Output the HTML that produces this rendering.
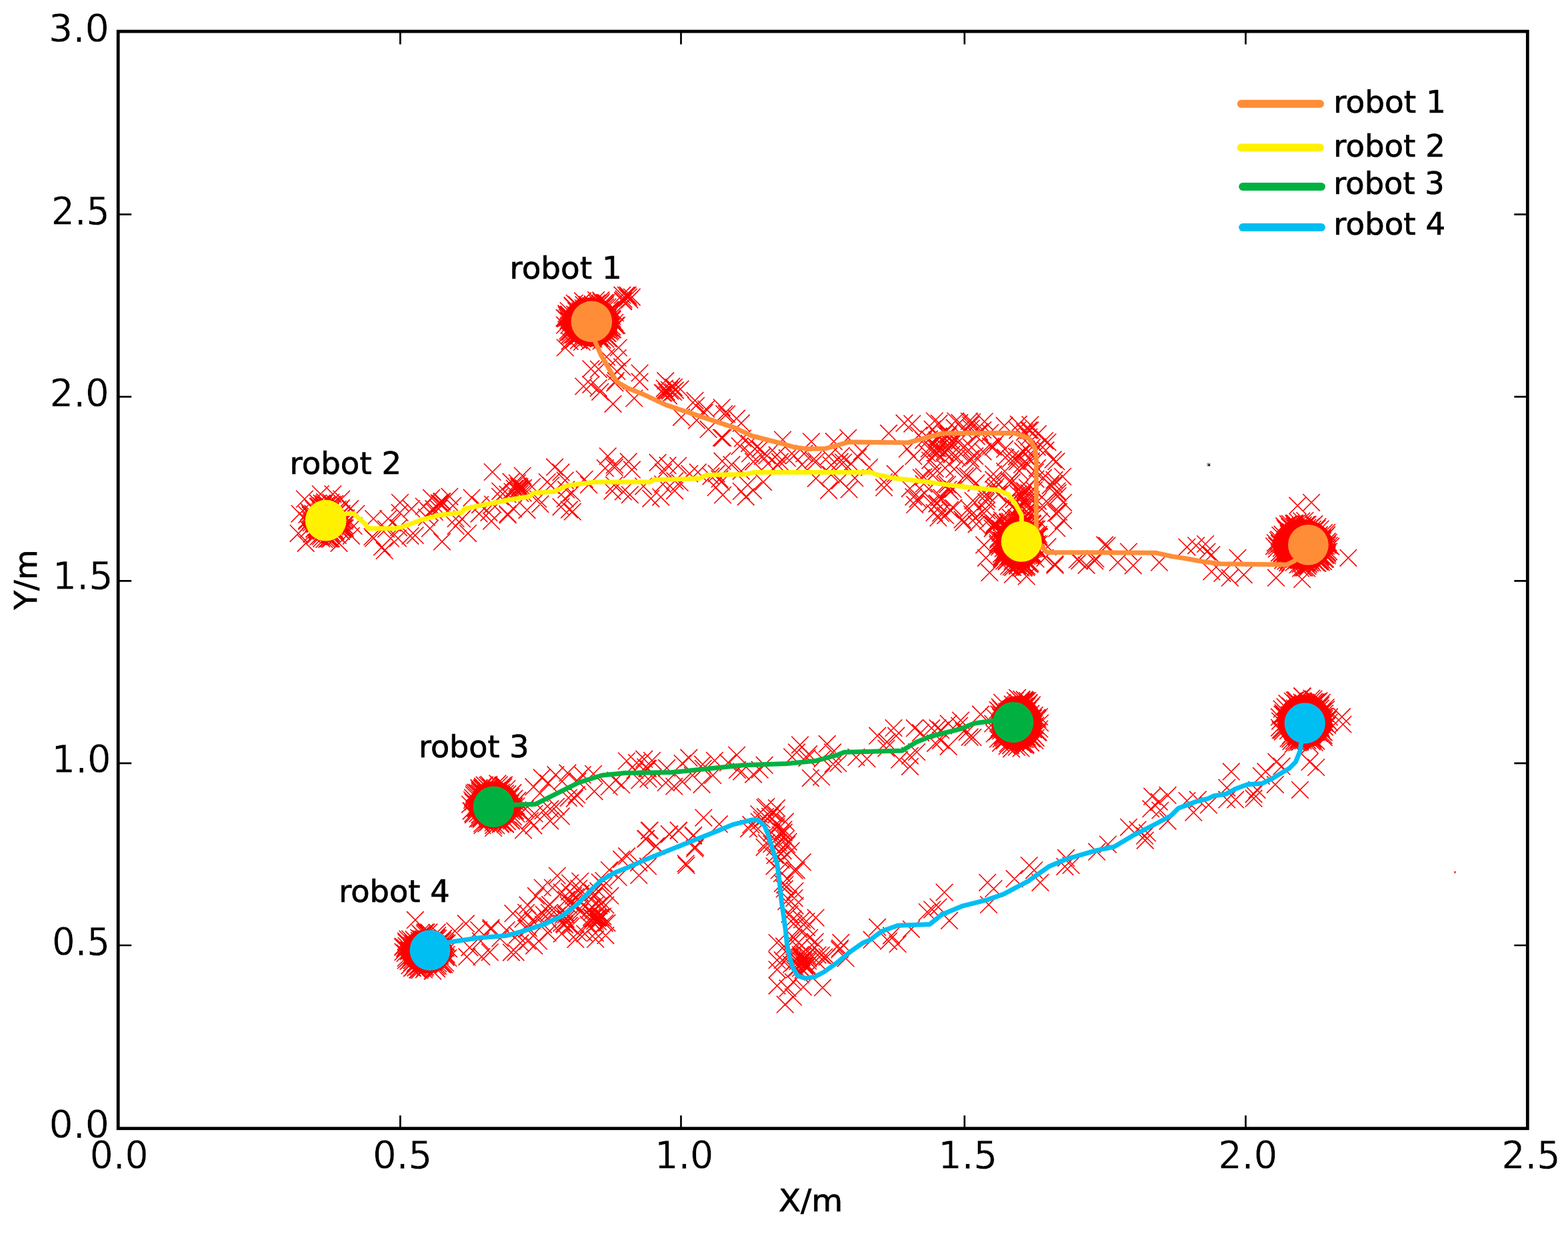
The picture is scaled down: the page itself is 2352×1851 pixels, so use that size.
<!DOCTYPE html>
<html><head><meta charset="utf-8"><title>Robot trajectories</title>
<style>html,body{margin:0;padding:0;background:#fff;width:2352px;height:1851px;overflow:hidden}svg{display:block}</style>
</head><body>
<svg xmlns="http://www.w3.org/2000/svg" width="2352" height="1851" viewBox="0 0 2352 1851"><defs><filter id="bl" x="-5%" y="-5%" width="110%" height="110%"><feGaussianBlur stdDeviation="0.6"/></filter></defs><rect width="2352" height="1851" fill="#fff"/><g filter="url(#bl)"><ellipse cx="886" cy="483" rx="42.0" ry="37.0" fill="#ff0000"/><ellipse cx="489" cy="781" rx="31.3" ry="28.5" fill="#ff0000"/><ellipse cx="1528" cy="815" rx="34.0" ry="40.0" fill="#ff0000"/><ellipse cx="1954" cy="817" rx="45.0" ry="38.0" fill="#ff0000"/><ellipse cx="741" cy="1208" rx="38.0" ry="36.0" fill="#ff0000"/><ellipse cx="1525" cy="1085" rx="38.0" ry="41.0" fill="#ff0000"/><ellipse cx="640" cy="1427" rx="38.0" ry="33.0" fill="#ff0000"/><ellipse cx="1957" cy="1082" rx="41.0" ry="40.0" fill="#ff0000"/><path d="M873.6 540.5l25.6 25.6m0-25.6l-25.6 25.6M946.8 546.7l25.6 25.6m0-25.6l-25.6 25.6M985.5 558.4l25.6 25.6m0-25.6l-25.6 25.6M862.5 566.7l25.6 25.6m0-25.6l-25.6 25.6M873.6 564.0l25.6 25.6m0-25.6l-25.6 25.6M887.4 575.0l25.6 25.6m0-25.6l-25.6 25.6M946.8 559.8l25.6 25.6m0-25.6l-25.6 25.6M992.5 573.6l25.6 25.6m0-25.6l-25.6 25.6M986.9 575.0l25.6 25.6m0-25.6l-25.6 25.6M998.0 568.1l25.6 25.6m0-25.6l-25.6 25.6M1007.7 570.9l25.6 25.6m0-25.6l-25.6 25.6M906.7 593.0l25.6 25.6m0-25.6l-25.6 25.6M938.5 584.7l25.6 25.6m0-25.6l-25.6 25.6M1031.2 595.8l25.6 25.6m0-25.6l-25.6 25.6M1069.9 598.5l25.6 25.6m0-25.6l-25.6 25.6M910.9 558.4l25.6 25.6m0-25.6l-25.6 25.6M897.1 522.5l25.6 25.6m0-25.6l-25.6 25.6M915.0 508.7l25.6 25.6m0-25.6l-25.6 25.6M834.9 508.7l25.6 25.6m0-25.6l-25.6 25.6M841.8 499.0l25.6 25.6m0-25.6l-25.6 25.6M928.9 434.0l25.6 25.6m0-25.6l-25.6 25.6M920.6 429.9l25.6 25.6m0-25.6l-25.6 25.6M931.6 436.8l25.6 25.6m0-25.6l-25.6 25.6M1073.4 608.0l25.6 25.6m0-25.6l-25.6 25.6M1092.1 614.9l25.6 25.6m0-25.6l-25.6 25.6M1099.0 621.9l25.6 25.6m0-25.6l-25.6 25.6M1071.3 644.0l25.6 25.6m0-25.6l-25.6 25.6M1096.9 656.4l25.6 25.6m0-25.6l-25.6 25.6M1122.5 657.8l25.6 25.6m0-25.6l-25.6 25.6M1161.2 646.7l25.6 25.6m0-25.6l-25.6 25.6M1204.1 649.5l25.6 25.6m0-25.6l-25.6 25.6M1259.4 644.0l25.6 25.6m0-25.6l-25.6 25.6M1320.2 637.1l25.6 25.6m0-25.6l-25.6 25.6M1343.7 621.9l25.6 25.6m0-25.6l-25.6 25.6M1347.9 660.6l25.6 25.6m0-25.6l-25.6 25.6M1357.5 671.6l25.6 25.6m0-25.6l-25.6 25.6M1130.8 671.6l25.6 25.6m0-25.6l-25.6 25.6M1139.1 682.7l25.6 25.6m0-25.6l-25.6 25.6M1157.1 679.9l25.6 25.6m0-25.6l-25.6 25.6M1168.1 674.4l25.6 25.6m0-25.6l-25.6 25.6M1190.2 684.1l25.6 25.6m0-25.6l-25.6 25.6M1206.8 677.2l25.6 25.6m0-25.6l-25.6 25.6M1230.3 671.6l25.6 25.6m0-25.6l-25.6 25.6M1246.9 679.9l25.6 25.6m0-25.6l-25.6 25.6M1263.5 682.7l25.6 25.6m0-25.6l-25.6 25.6M1280.1 664.7l25.6 25.6m0-25.6l-25.6 25.6M1291.2 688.2l25.6 25.6m0-25.6l-25.6 25.6M1099.0 693.8l25.6 25.6m0-25.6l-25.6 25.6M1132.2 710.3l25.6 25.6m0-25.6l-25.6 25.6M1211.0 704.8l25.6 25.6m0-25.6l-25.6 25.6M1230.3 722.8l25.6 25.6m0-25.6l-25.6 25.6M1260.8 721.4l25.6 25.6m0-25.6l-25.6 25.6M1313.3 710.3l25.6 25.6m0-25.6l-25.6 25.6M1329.9 697.9l25.6 25.6m0-25.6l-25.6 25.6M1352.0 720.0l25.6 25.6m0-25.6l-25.6 25.6M1357.5 732.5l25.6 25.6m0-25.6l-25.6 25.6M1108.7 714.5l25.6 25.6m0-25.6l-25.6 25.6M1099.0 724.2l25.6 25.6m0-25.6l-25.6 25.6M1105.9 732.5l25.6 25.6m0-25.6l-25.6 25.6M1117.0 722.8l25.6 25.6m0-25.6l-25.6 25.6M1071.3 729.7l25.6 25.6m0-25.6l-25.6 25.6M1313.3 718.6l25.6 25.6m0-25.6l-25.6 25.6M1043.7 606.1l25.6 25.6m0-25.6l-25.6 25.6M1032.2 617.6l25.6 25.6m0-25.6l-25.6 25.6M1009.2 613.0l25.6 25.6m0-25.6l-25.6 25.6M1355.5 622.8l25.6 25.6m0-25.6l-25.6 25.6M1385.9 631.1l25.6 25.6m0-25.6l-25.6 25.6M1420.5 618.7l25.6 25.6m0-25.6l-25.6 25.6M1444.0 629.7l25.6 25.6m0-25.6l-25.6 25.6M1493.8 625.6l25.6 25.6m0-25.6l-25.6 25.6M1532.5 624.2l25.6 25.6m0-25.6l-25.6 25.6M1558.7 650.5l25.6 25.6m0-25.6l-25.6 25.6M1524.2 635.3l25.6 25.6m0-25.6l-25.6 25.6M1562.9 715.5l25.6 25.6m0-25.6l-25.6 25.6M1573.9 726.5l25.6 25.6m0-25.6l-25.6 25.6M1571.2 756.9l25.6 25.6m0-25.6l-25.6 25.6M1582.2 768.0l25.6 25.6m0-25.6l-25.6 25.6M1363.8 735.5l25.6 25.6m0-25.6l-25.6 25.6M1388.7 756.2l25.6 25.6m0-25.6l-25.6 25.6M1417.7 749.3l25.6 25.6m0-25.6l-25.6 25.6M1405.3 760.4l25.6 25.6m0-25.6l-25.6 25.6M1460.6 754.9l25.6 25.6m0-25.6l-25.6 25.6M1467.5 735.5l25.6 25.6m0-25.6l-25.6 25.6M1446.7 738.3l25.6 25.6m0-25.6l-25.6 25.6M1463.3 804.6l25.6 25.6m0-25.6l-25.6 25.6M1466.1 824.0l25.6 25.6m0-25.6l-25.6 25.6M1471.6 846.1l25.6 25.6m0-25.6l-25.6 25.6M1506.2 848.9l25.6 25.6m0-25.6l-25.6 25.6M1526.9 851.6l25.6 25.6m0-25.6l-25.6 25.6M1569.8 835.0l25.6 25.6m0-25.6l-25.6 25.6M1554.6 824.0l25.6 25.6m0-25.6l-25.6 25.6M1603.0 826.7l25.6 25.6m0-25.6l-25.6 25.6M1616.8 835.0l25.6 25.6m0-25.6l-25.6 25.6M1630.6 825.4l25.6 25.6m0-25.6l-25.6 25.6M1644.4 804.6l25.6 25.6m0-25.6l-25.6 25.6M1558.7 807.4l25.6 25.6m0-25.6l-25.6 25.6M1572.6 779.7l25.6 25.6m0-25.6l-25.6 25.6M1575.3 754.9l25.6 25.6m0-25.6l-25.6 25.6M1582.2 741.0l25.6 25.6m0-25.6l-25.6 25.6M1573.9 731.3l25.6 25.6m0-25.6l-25.6 25.6M1569.5 833.2l25.6 25.6m0-25.6l-25.6 25.6M1606.3 828.6l25.6 25.6m0-25.6l-25.6 25.6M1647.8 805.5l25.6 25.6m0-25.6l-25.6 25.6M1629.4 828.6l25.6 25.6m0-25.6l-25.6 25.6M1663.9 830.9l25.6 25.6m0-25.6l-25.6 25.6M1680.1 814.8l25.6 25.6m0-25.6l-25.6 25.6M1687.0 835.5l25.6 25.6m0-25.6l-25.6 25.6M1726.1 830.9l25.6 25.6m0-25.6l-25.6 25.6M1767.6 807.8l25.6 25.6m0-25.6l-25.6 25.6M1781.4 805.5l25.6 25.6m0-25.6l-25.6 25.6M1795.3 803.2l25.6 25.6m0-25.6l-25.6 25.6M1797.6 814.8l25.6 25.6m0-25.6l-25.6 25.6M1804.5 819.4l25.6 25.6m0-25.6l-25.6 25.6M1804.5 844.7l25.6 25.6m0-25.6l-25.6 25.6M1820.6 847.0l25.6 25.6m0-25.6l-25.6 25.6M1843.7 824.0l25.6 25.6m0-25.6l-25.6 25.6M1852.9 849.3l25.6 25.6m0-25.6l-25.6 25.6M1832.1 853.9l25.6 25.6m0-25.6l-25.6 25.6M1901.3 853.9l25.6 25.6m0-25.6l-25.6 25.6M1940.4 856.2l25.6 25.6m0-25.6l-25.6 25.6M2009.6 824.0l25.6 25.6m0-25.6l-25.6 25.6M1933.5 745.6l25.6 25.6m0-25.6l-25.6 25.6M1954.3 741.0l25.6 25.6m0-25.6l-25.6 25.6M468.0 728.3l25.6 25.6m0-25.6l-25.6 25.6M486.5 728.3l25.6 25.6m0-25.6l-25.6 25.6M499.4 735.7l25.6 25.6m0-25.6l-25.6 25.6M512.3 750.4l25.6 25.6m0-25.6l-25.6 25.6M521.5 757.8l25.6 25.6m0-25.6l-25.6 25.6M517.8 776.2l25.6 25.6m0-25.6l-25.6 25.6M514.1 791.0l25.6 25.6m0-25.6l-25.6 25.6M495.7 802.0l25.6 25.6m0-25.6l-25.6 25.6M445.9 802.0l25.6 25.6m0-25.6l-25.6 25.6M434.8 787.3l25.6 25.6m0-25.6l-25.6 25.6M436.7 757.8l25.6 25.6m0-25.6l-25.6 25.6M444.1 735.7l25.6 25.6m0-25.6l-25.6 25.6M547.3 765.2l25.6 25.6m0-25.6l-25.6 25.6M569.4 765.2l25.6 25.6m0-25.6l-25.6 25.6M547.3 794.7l25.6 25.6m0-25.6l-25.6 25.6M560.2 807.6l25.6 25.6m0-25.6l-25.6 25.6M573.1 794.7l25.6 25.6m0-25.6l-25.6 25.6M563.9 813.1l25.6 25.6m0-25.6l-25.6 25.6M584.2 794.7l25.6 25.6m0-25.6l-25.6 25.6M602.6 791.0l25.6 25.6m0-25.6l-25.6 25.6M604.4 750.4l25.6 25.6m0-25.6l-25.6 25.6M622.9 746.7l25.6 25.6m0-25.6l-25.6 25.6M637.6 750.4l25.6 25.6m0-25.6l-25.6 25.6M632.1 779.9l25.6 25.6m0-25.6l-25.6 25.6M645.0 750.4l25.6 25.6m0-25.6l-25.6 25.6M661.6 732.0l25.6 25.6m0-25.6l-25.6 25.6M670.8 765.2l25.6 25.6m0-25.6l-25.6 25.6M689.2 787.3l25.6 25.6m0-25.6l-25.6 25.6M670.8 776.2l25.6 25.6m0-25.6l-25.6 25.6M694.8 733.8l25.6 25.6m0-25.6l-25.6 25.6M705.8 757.8l25.6 25.6m0-25.6l-25.6 25.6M720.6 756.0l25.6 25.6m0-25.6l-25.6 25.6M737.2 732.0l25.6 25.6m0-25.6l-25.6 25.6M724.3 768.9l25.6 25.6m0-25.6l-25.6 25.6M757.4 750.4l25.6 25.6m0-25.6l-25.6 25.6M768.5 720.9l25.6 25.6m0-25.6l-25.6 25.6M785.1 717.2l25.6 25.6m0-25.6l-25.6 25.6M794.3 735.7l25.6 25.6m0-25.6l-25.6 25.6M763.0 711.7l25.6 25.6m0-25.6l-25.6 25.6M777.7 752.3l25.6 25.6m0-25.6l-25.6 25.6M753.7 709.9l25.6 25.6m0-25.6l-25.6 25.6M646.8 743.1l25.6 25.6m0-25.6l-25.6 25.6M650.5 739.4l25.6 25.6m0-25.6l-25.6 25.6M766.6 717.2l25.6 25.6m0-25.6l-25.6 25.6M772.2 719.1l25.6 25.6m0-25.6l-25.6 25.6M895.0 689.4l25.6 25.6m0-25.6l-25.6 25.6M922.0 724.7l25.6 25.6m0-25.6l-25.6 25.6M963.5 735.0l25.6 25.6m0-25.6l-25.6 25.6M973.8 681.1l25.6 25.6m0-25.6l-25.6 25.6M982.1 695.6l25.6 25.6m0-25.6l-25.6 25.6M1021.5 697.7l25.6 25.6m0-25.6l-25.6 25.6M1034.0 695.6l25.6 25.6m0-25.6l-25.6 25.6M1060.9 718.4l25.6 25.6m0-25.6l-25.6 25.6M1069.2 643.8l25.6 25.6m0-25.6l-25.6 25.6M807.9 710.2l25.6 25.6m0-25.6l-25.6 25.6M828.7 695.6l25.6 25.6m0-25.6l-25.6 25.6M834.9 735.0l25.6 25.6m0-25.6l-25.6 25.6M828.7 747.5l25.6 25.6m0-25.6l-25.6 25.6M841.1 751.6l25.6 25.6m0-25.6l-25.6 25.6M863.9 706.0l25.6 25.6m0-25.6l-25.6 25.6M870.2 714.3l25.6 25.6m0-25.6l-25.6 25.6M797.6 743.3l25.6 25.6m0-25.6l-25.6 25.6M787.5 1167.4l25.6 25.6m0-25.6l-25.6 25.6M799.9 1153.6l25.6 25.6m0-25.6l-25.6 25.6M820.7 1149.4l25.6 25.6m0-25.6l-25.6 25.6M838.6 1146.6l25.6 25.6m0-25.6l-25.6 25.6M860.8 1149.4l25.6 25.6m0-25.6l-25.6 25.6M877.3 1148.0l25.6 25.6m0-25.6l-25.6 25.6M809.6 1161.9l25.6 25.6m0-25.6l-25.6 25.6M830.3 1159.1l25.6 25.6m0-25.6l-25.6 25.6M853.8 1159.1l25.6 25.6m0-25.6l-25.6 25.6M840.0 1184.0l25.6 25.6m0-25.6l-25.6 25.6M812.4 1200.6l25.6 25.6m0-25.6l-25.6 25.6M829.0 1211.6l25.6 25.6m0-25.6l-25.6 25.6M797.2 1177.1l25.6 25.6m0-25.6l-25.6 25.6M782.0 1218.5l25.6 25.6m0-25.6l-25.6 25.6M787.5 1225.5l25.6 25.6m0-25.6l-25.6 25.6M812.4 1218.5l25.6 25.6m0-25.6l-25.6 25.6M878.7 1174.3l25.6 25.6m0-25.6l-25.6 25.6M900.9 1167.4l25.6 25.6m0-25.6l-25.6 25.6M910.5 1157.7l25.6 25.6m0-25.6l-25.6 25.6M942.3 1131.4l25.6 25.6m0-25.6l-25.6 25.6M953.4 1125.9l25.6 25.6m0-25.6l-25.6 25.6M957.5 1139.7l25.6 25.6m0-25.6l-25.6 25.6M946.5 1157.7l25.6 25.6m0-25.6l-25.6 25.6M939.6 1142.5l25.6 25.6m0-25.6l-25.6 25.6M927.1 1128.7l25.6 25.6m0-25.6l-25.6 25.6M775.0 1200.6l25.6 25.6m0-25.6l-25.6 25.6M772.3 1232.4l25.6 25.6m0-25.6l-25.6 25.6M965.2 1128.0l25.6 25.6m0-25.6l-25.6 25.6M955.5 1137.7l25.6 25.6m0-25.6l-25.6 25.6M959.6 1155.7l25.6 25.6m0-25.6l-25.6 25.6M985.9 1161.2l25.6 25.6m0-25.6l-25.6 25.6M987.3 1139.1l25.6 25.6m0-25.6l-25.6 25.6M1010.8 1132.2l25.6 25.6m0-25.6l-25.6 25.6M1020.5 1123.9l25.6 25.6m0-25.6l-25.6 25.6M1010.8 1159.8l25.6 25.6m0-25.6l-25.6 25.6M998.4 1166.7l25.6 25.6m0-25.6l-25.6 25.6M1026.0 1150.2l25.6 25.6m0-25.6l-25.6 25.6M1041.2 1133.6l25.6 25.6m0-25.6l-25.6 25.6M1039.8 1164.0l25.6 25.6m0-25.6l-25.6 25.6M1056.4 1150.2l25.6 25.6m0-25.6l-25.6 25.6M1059.2 1128.0l25.6 25.6m0-25.6l-25.6 25.6M1092.4 1119.7l25.6 25.6m0-25.6l-25.6 25.6M1099.3 1144.6l25.6 25.6m0-25.6l-25.6 25.6M1117.3 1148.8l25.6 25.6m0-25.6l-25.6 25.6M1126.9 1141.9l25.6 25.6m0-25.6l-25.6 25.6M1133.8 1134.9l25.6 25.6m0-25.6l-25.6 25.6M1175.3 1122.5l25.6 25.6m0-25.6l-25.6 25.6M1203.0 1154.3l25.6 25.6m0-25.6l-25.6 25.6M1182.2 1115.6l25.6 25.6m0-25.6l-25.6 25.6M1200.2 1118.4l25.6 25.6m0-25.6l-25.6 25.6M1227.9 1103.1l25.6 25.6m0-25.6l-25.6 25.6M1236.2 1115.6l25.6 25.6m0-25.6l-25.6 25.6M1220.9 1125.3l25.6 25.6m0-25.6l-25.6 25.6M1244.4 1132.2l25.6 25.6m0-25.6l-25.6 25.6M961.0 1233.1l25.6 25.6m0-25.6l-25.6 25.6M955.5 1245.5l25.6 25.6m0-25.6l-25.6 25.6M970.7 1256.6l25.6 25.6m0-25.6l-25.6 25.6M991.4 1238.6l25.6 25.6m0-25.6l-25.6 25.6M1005.3 1233.1l25.6 25.6m0-25.6l-25.6 25.6M1027.4 1240.0l25.6 25.6m0-25.6l-25.6 25.6M1042.6 1213.8l25.6 25.6m0-25.6l-25.6 25.6M1066.1 1223.4l25.6 25.6m0-25.6l-25.6 25.6M1030.2 1258.0l25.6 25.6m0-25.6l-25.6 25.6M1110.3 1230.3l25.6 25.6m0-25.6l-25.6 25.6M1136.6 1197.2l25.6 25.6m0-25.6l-25.6 25.6M1146.3 1206.8l25.6 25.6m0-25.6l-25.6 25.6M1135.2 1212.4l25.6 25.6m0-25.6l-25.6 25.6M1125.5 1208.2l25.6 25.6m0-25.6l-25.6 25.6M1162.9 1235.9l25.6 25.6m0-25.6l-25.6 25.6M1154.6 1251.1l25.6 25.6m0-25.6l-25.6 25.6M1133.8 1258.0l25.6 25.6m0-25.6l-25.6 25.6M1173.9 1263.5l25.6 25.6m0-25.6l-25.6 25.6M1151.8 1223.4l25.6 25.6m0-25.6l-25.6 25.6M1271.5 1123.1l25.6 25.6m0-25.6l-25.6 25.6M1287.7 1125.4l25.6 25.6m0-25.6l-25.6 25.6M1317.6 1100.1l25.6 25.6m0-25.6l-25.6 25.6M1331.4 1090.9l25.6 25.6m0-25.6l-25.6 25.6M1352.2 1120.8l25.6 25.6m0-25.6l-25.6 25.6M1352.2 1137.0l25.6 25.6m0-25.6l-25.6 25.6M1359.1 1079.4l25.6 25.6m0-25.6l-25.6 25.6M1368.3 1086.3l25.6 25.6m0-25.6l-25.6 25.6M1393.7 1079.4l25.6 25.6m0-25.6l-25.6 25.6M1409.8 1072.5l25.6 25.6m0-25.6l-25.6 25.6M1428.2 1067.8l25.6 25.6m0-25.6l-25.6 25.6M1432.8 1084.0l25.6 25.6m0-25.6l-25.6 25.6M1446.6 1093.2l25.6 25.6m0-25.6l-25.6 25.6M1458.2 1058.6l25.6 25.6m0-25.6l-25.6 25.6M1409.8 1107.0l25.6 25.6m0-25.6l-25.6 25.6M1398.3 1097.8l25.6 25.6m0-25.6l-25.6 25.6M1384.4 1079.4l25.6 25.6m0-25.6l-25.6 25.6M610.1 1367.1l25.6 25.6m0-25.6l-25.6 25.6M686.1 1372.6l25.6 25.6m0-25.6l-25.6 25.6M669.5 1383.7l25.6 25.6m0-25.6l-25.6 25.6M705.5 1382.3l25.6 25.6m0-25.6l-25.6 25.6M723.4 1380.9l25.6 25.6m0-25.6l-25.6 25.6M691.6 1408.5l25.6 25.6m0-25.6l-25.6 25.6M708.2 1398.9l25.6 25.6m0-25.6l-25.6 25.6M687.5 1422.4l25.6 25.6m0-25.6l-25.6 25.6M709.6 1422.4l25.6 25.6m0-25.6l-25.6 25.6M722.0 1415.5l25.6 25.6m0-25.6l-25.6 25.6M737.3 1394.7l25.6 25.6m0-25.6l-25.6 25.6M746.9 1382.3l25.6 25.6m0-25.6l-25.6 25.6M756.6 1357.4l25.6 25.6m0-25.6l-25.6 25.6M771.8 1365.7l25.6 25.6m0-25.6l-25.6 25.6M760.8 1415.5l25.6 25.6m0-25.6l-25.6 25.6M778.7 1398.9l25.6 25.6m0-25.6l-25.6 25.6M788.4 1405.8l25.6 25.6m0-25.6l-25.6 25.6M778.7 1344.9l25.6 25.6m0-25.6l-25.6 25.6M791.2 1331.1l25.6 25.6m0-25.6l-25.6 25.6M800.9 1318.7l25.6 25.6m0-25.6l-25.6 25.6M823.0 1300.7l25.6 25.6m0-25.6l-25.6 25.6M842.3 1311.8l25.6 25.6m0-25.6l-25.6 25.6M857.5 1309.0l25.6 25.6m0-25.6l-25.6 25.6M809.1 1346.3l25.6 25.6m0-25.6l-25.6 25.6M823.0 1360.2l25.6 25.6m0-25.6l-25.6 25.6M809.1 1386.4l25.6 25.6m0-25.6l-25.6 25.6M829.9 1387.8l25.6 25.6m0-25.6l-25.6 25.6M843.7 1376.7l25.6 25.6m0-25.6l-25.6 25.6M857.5 1354.6l25.6 25.6m0-25.6l-25.6 25.6M864.4 1387.8l25.6 25.6m0-25.6l-25.6 25.6M795.3 1398.9l25.6 25.6m0-25.6l-25.6 25.6M767.7 1401.6l25.6 25.6m0-25.6l-25.6 25.6M850.6 1396.1l25.6 25.6m0-25.6l-25.6 25.6M795.3 1362.9l25.6 25.6m0-25.6l-25.6 25.6M836.8 1336.6l25.6 25.6m0-25.6l-25.6 25.6M816.1 1318.7l25.6 25.6m0-25.6l-25.6 25.6M829.9 1325.6l25.6 25.6m0-25.6l-25.6 25.6M850.6 1332.5l25.6 25.6m0-25.6l-25.6 25.6M802.2 1374.0l25.6 25.6m0-25.6l-25.6 25.6M901.1 1292.2l25.6 25.6m0-25.6l-25.6 25.6M927.4 1271.4l25.6 25.6m0-25.6l-25.6 25.6M959.2 1286.6l25.6 25.6m0-25.6l-25.6 25.6M962.0 1232.7l25.6 25.6m0-25.6l-25.6 25.6M956.4 1245.2l25.6 25.6m0-25.6l-25.6 25.6M991.0 1238.3l25.6 25.6m0-25.6l-25.6 25.6M971.6 1256.2l25.6 25.6m0-25.6l-25.6 25.6M1004.8 1232.7l25.6 25.6m0-25.6l-25.6 25.6M1026.9 1241.0l25.6 25.6m0-25.6l-25.6 25.6M1029.7 1257.6l25.6 25.6m0-25.6l-25.6 25.6M1015.9 1282.5l25.6 25.6m0-25.6l-25.6 25.6M914.9 1303.2l25.6 25.6m0-25.6l-25.6 25.6M892.8 1315.7l25.6 25.6m0-25.6l-25.6 25.6M855.5 1319.8l25.6 25.6m0-25.6l-25.6 25.6M902.5 1330.9l25.6 25.6m0-25.6l-25.6 25.6M895.6 1344.7l25.6 25.6m0-25.6l-25.6 25.6M874.9 1347.5l25.6 25.6m0-25.6l-25.6 25.6M880.4 1395.9l25.6 25.6m0-25.6l-25.6 25.6M895.6 1390.3l25.6 25.6m0-25.6l-25.6 25.6M854.1 1386.2l25.6 25.6m0-25.6l-25.6 25.6M1016.7 1285.2l25.6 25.6m0-25.6l-25.6 25.6M1029.2 1259.9l25.6 25.6m0-25.6l-25.6 25.6M1164.9 1493.9l25.6 25.6m0-25.6l-25.6 25.6M1177.1 1482.7l25.6 25.6m0-25.6l-25.6 25.6M1221.1 1468.6l25.6 25.6m0-25.6l-25.6 25.6M1152.8 1465.8l25.6 25.6m0-25.6l-25.6 25.6M1192.1 1467.7l25.6 25.6m0-25.6l-25.6 25.6M1168.7 1469.6l25.6 25.6m0-25.6l-25.6 25.6M1177.1 1460.2l25.6 25.6m0-25.6l-25.6 25.6M1152.8 1441.5l25.6 25.6m0-25.6l-25.6 25.6M1152.8 1427.4l25.6 25.6m0-25.6l-25.6 25.6M1152.8 1401.2l25.6 25.6m0-25.6l-25.6 25.6M1247.3 1409.6l25.6 25.6m0-25.6l-25.6 25.6M1255.8 1424.6l25.6 25.6m0-25.6l-25.6 25.6M1227.7 1422.8l25.6 25.6m0-25.6l-25.6 25.6M1208.9 1408.7l25.6 25.6m0-25.6l-25.6 25.6M1210.8 1363.8l25.6 25.6m0-25.6l-25.6 25.6M1190.2 1366.6l25.6 25.6m0-25.6l-25.6 25.6M1246.4 1411.6l25.6 25.6m0-25.6l-25.6 25.6M1248.5 1401.1l25.6 25.6m0-25.6l-25.6 25.6M1294.8 1396.9l25.6 25.6m0-25.6l-25.6 25.6M1320.1 1399.0l25.6 25.6m0-25.6l-25.6 25.6M1303.3 1377.9l25.6 25.6m0-25.6l-25.6 25.6M1324.3 1390.5l25.6 25.6m0-25.6l-25.6 25.6M1219.0 1420.0l25.6 25.6m0-25.6l-25.6 25.6M1134.7 1198.8l25.6 25.6m0-25.6l-25.6 25.6M1151.5 1209.3l25.6 25.6m0-25.6l-25.6 25.6M1113.6 1224.1l25.6 25.6m0-25.6l-25.6 25.6M1124.2 1230.4l25.6 25.6m0-25.6l-25.6 25.6M1160.0 1234.6l25.6 25.6m0-25.6l-25.6 25.6M1166.3 1245.2l25.6 25.6m0-25.6l-25.6 25.6M1403.8 1325.7l25.6 25.6m0-25.6l-25.6 25.6M1385.4 1351.5l25.6 25.6m0-25.6l-25.6 25.6M1411.2 1368.1l25.6 25.6m0-25.6l-25.6 25.6M1354.1 1381.0l25.6 25.6m0-25.6l-25.6 25.6M1333.8 1403.1l25.6 25.6m0-25.6l-25.6 25.6M1468.4 1311.0l25.6 25.6m0-25.6l-25.6 25.6M1477.6 1320.2l25.6 25.6m0-25.6l-25.6 25.6M1508.9 1305.4l25.6 25.6m0-25.6l-25.6 25.6M1538.4 1292.5l25.6 25.6m0-25.6l-25.6 25.6M1547.6 1311.0l25.6 25.6m0-25.6l-25.6 25.6M1586.3 1274.1l25.6 25.6m0-25.6l-25.6 25.6M1584.5 1287.0l25.6 25.6m0-25.6l-25.6 25.6M1632.4 1264.9l25.6 25.6m0-25.6l-25.6 25.6M1649.0 1253.8l25.6 25.6m0-25.6l-25.6 25.6M1680.3 1228.0l25.6 25.6m0-25.6l-25.6 25.6M1704.3 1240.9l25.6 25.6m0-25.6l-25.6 25.6M1715.4 1181.9l25.6 25.6m0-25.6l-25.6 25.6M1470.2 1344.2l25.6 25.6m0-25.6l-25.6 25.6M1531.0 1285.2l25.6 25.6m0-25.6l-25.6 25.6M1593.7 1285.2l25.6 25.6m0-25.6l-25.6 25.6M1713.5 1200.4l25.6 25.6m0-25.6l-25.6 25.6M1378.0 1355.2l25.6 25.6m0-25.6l-25.6 25.6M1394.6 1347.8l25.6 25.6m0-25.6l-25.6 25.6M1834.0 1144.6l25.6 25.6m0-25.6l-25.6 25.6M1879.1 1151.1l25.6 25.6m0-25.6l-25.6 25.6M1885.6 1144.6l25.6 25.6m0-25.6l-25.6 25.6M1909.8 1136.6l25.6 25.6m0-25.6l-25.6 25.6M1901.7 1130.1l25.6 25.6m0-25.6l-25.6 25.6M1961.4 1138.2l25.6 25.6m0-25.6l-25.6 25.6M1951.7 1130.1l25.6 25.6m0-25.6l-25.6 25.6M1937.2 1172.0l25.6 25.6m0-25.6l-25.6 25.6M1900.1 1164.0l25.6 25.6m0-25.6l-25.6 25.6M1872.7 1172.0l25.6 25.6m0-25.6l-25.6 25.6M1867.8 1184.9l25.6 25.6m0-25.6l-25.6 25.6M1867.8 1178.5l25.6 25.6m0-25.6l-25.6 25.6M1827.5 1186.6l25.6 25.6m0-25.6l-25.6 25.6M1840.4 1186.6l25.6 25.6m0-25.6l-25.6 25.6M1827.5 1168.8l25.6 25.6m0-25.6l-25.6 25.6M1800.1 1194.6l25.6 25.6m0-25.6l-25.6 25.6M1777.5 1205.9l25.6 25.6m0-25.6l-25.6 25.6M1784.0 1186.6l25.6 25.6m0-25.6l-25.6 25.6M1767.8 1188.2l25.6 25.6m0-25.6l-25.6 25.6M1738.8 1180.1l25.6 25.6m0-25.6l-25.6 25.6M1725.9 1189.8l25.6 25.6m0-25.6l-25.6 25.6M1727.5 1202.7l25.6 25.6m0-25.6l-25.6 25.6M1738.8 1218.8l25.6 25.6m0-25.6l-25.6 25.6M1708.2 1236.6l25.6 25.6m0-25.6l-25.6 25.6M1704.9 1247.8l25.6 25.6m0-25.6l-25.6 25.6M1693.7 1231.7l25.6 25.6m0-25.6l-25.6 25.6M2001.7 1073.7l25.6 25.6m0-25.6l-25.6 25.6M2000.1 1062.4l25.6 25.6m0-25.6l-25.6 25.6M1127.5 660.5l25.6 25.6m0-25.6l-25.6 25.6M1152.8 669.6l25.6 25.6m0-25.6l-25.6 25.6M1153.8 684.8l25.6 25.6m0-25.6l-25.6 25.6M1178.2 670.7l25.6 25.6m0-25.6l-25.6 25.6M1193.4 667.6l25.6 25.6m0-25.6l-25.6 25.6M1211.6 678.8l25.6 25.6m0-25.6l-25.6 25.6M1233.9 684.8l25.6 25.6m0-25.6l-25.6 25.6M1249.1 670.7l25.6 25.6m0-25.6l-25.6 25.6M1252.2 680.8l25.6 25.6m0-25.6l-25.6 25.6M1274.5 672.7l25.6 25.6m0-25.6l-25.6 25.6M1117.3 679.8l25.6 25.6m0-25.6l-25.6 25.6M1112.3 667.6l25.6 25.6m0-25.6l-25.6 25.6M1137.6 670.7l25.6 25.6m0-25.6l-25.6 25.6M1247.1 708.2l25.6 25.6m0-25.6l-25.6 25.6M1269.4 704.1l25.6 25.6m0-25.6l-25.6 25.6M1233.9 699.2l25.6 25.6m0-25.6l-25.6 25.6M1238.0 649.4l25.6 25.6m0-25.6l-25.6 25.6M866.2 482.5l25.6 25.6m0-25.6l-25.6 25.6M866.8 462.4l25.6 25.6m0-25.6l-25.6 25.6M849.3 465.4l25.6 25.6m0-25.6l-25.6 25.6M900.2 479.2l25.6 25.6m0-25.6l-25.6 25.6M899.1 475.7l25.6 25.6m0-25.6l-25.6 25.6M884.2 474.7l25.6 25.6m0-25.6l-25.6 25.6M840.4 484.9l25.6 25.6m0-25.6l-25.6 25.6M886.8 482.0l25.6 25.6m0-25.6l-25.6 25.6M845.8 445.4l25.6 25.6m0-25.6l-25.6 25.6M850.6 459.8l25.6 25.6m0-25.6l-25.6 25.6M881.8 469.1l25.6 25.6m0-25.6l-25.6 25.6M886.9 455.4l25.6 25.6m0-25.6l-25.6 25.6M881.8 479.8l25.6 25.6m0-25.6l-25.6 25.6M860.1 500.1l25.6 25.6m0-25.6l-25.6 25.6M886.2 494.7l25.6 25.6m0-25.6l-25.6 25.6M857.3 453.6l25.6 25.6m0-25.6l-25.6 25.6M863.5 467.6l25.6 25.6m0-25.6l-25.6 25.6M890.3 476.1l25.6 25.6m0-25.6l-25.6 25.6M862.0 449.2l25.6 25.6m0-25.6l-25.6 25.6M861.0 495.2l25.6 25.6m0-25.6l-25.6 25.6M852.0 475.8l25.6 25.6m0-25.6l-25.6 25.6M882.5 441.7l25.6 25.6m0-25.6l-25.6 25.6M874.3 497.1l25.6 25.6m0-25.6l-25.6 25.6M835.8 465.0l25.6 25.6m0-25.6l-25.6 25.6M870.4 451.3l25.6 25.6m0-25.6l-25.6 25.6M887.0 468.7l25.6 25.6m0-25.6l-25.6 25.6M842.5 485.4l25.6 25.6m0-25.6l-25.6 25.6M889.6 490.5l25.6 25.6m0-25.6l-25.6 25.6M905.3 477.3l25.6 25.6m0-25.6l-25.6 25.6M876.0 443.4l25.6 25.6m0-25.6l-25.6 25.6M889.3 456.2l25.6 25.6m0-25.6l-25.6 25.6M862.7 444.4l25.6 25.6m0-25.6l-25.6 25.6M849.2 458.7l25.6 25.6m0-25.6l-25.6 25.6M894.3 441.1l25.6 25.6m0-25.6l-25.6 25.6M840.6 474.9l25.6 25.6m0-25.6l-25.6 25.6M904.7 481.3l25.6 25.6m0-25.6l-25.6 25.6M848.9 442.0l25.6 25.6m0-25.6l-25.6 25.6M882.6 453.2l25.6 25.6m0-25.6l-25.6 25.6M848.2 489.3l25.6 25.6m0-25.6l-25.6 25.6M900.4 473.6l25.6 25.6m0-25.6l-25.6 25.6M880.0 480.8l25.6 25.6m0-25.6l-25.6 25.6M906.3 481.5l25.6 25.6m0-25.6l-25.6 25.6M887.1 483.0l25.6 25.6m0-25.6l-25.6 25.6M843.9 491.2l25.6 25.6m0-25.6l-25.6 25.6M896.9 481.7l25.6 25.6m0-25.6l-25.6 25.6M837.0 460.0l25.6 25.6m0-25.6l-25.6 25.6M889.1 440.3l25.6 25.6m0-25.6l-25.6 25.6M868.6 492.7l25.6 25.6m0-25.6l-25.6 25.6M849.2 496.1l25.6 25.6m0-25.6l-25.6 25.6M888.4 466.6l25.6 25.6m0-25.6l-25.6 25.6M881.9 485.5l25.6 25.6m0-25.6l-25.6 25.6M876.1 494.8l25.6 25.6m0-25.6l-25.6 25.6M855.6 460.5l25.6 25.6m0-25.6l-25.6 25.6M899.4 470.8l25.6 25.6m0-25.6l-25.6 25.6M852.4 489.8l25.6 25.6m0-25.6l-25.6 25.6M905.4 461.6l25.6 25.6m0-25.6l-25.6 25.6M841.5 467.5l25.6 25.6m0-25.6l-25.6 25.6M869.0 462.8l25.6 25.6m0-25.6l-25.6 25.6M902.1 451.7l25.6 25.6m0-25.6l-25.6 25.6M898.7 447.7l25.6 25.6m0-25.6l-25.6 25.6M853.2 484.2l25.6 25.6m0-25.6l-25.6 25.6M898.9 487.3l25.6 25.6m0-25.6l-25.6 25.6M882.9 473.7l25.6 25.6m0-25.6l-25.6 25.6M877.4 484.0l25.6 25.6m0-25.6l-25.6 25.6M868.2 477.1l25.6 25.6m0-25.6l-25.6 25.6M889.0 470.2l25.6 25.6m0-25.6l-25.6 25.6M892.8 482.9l25.6 25.6m0-25.6l-25.6 25.6M910.6 475.5l25.6 25.6m0-25.6l-25.6 25.6M861.4 461.2l25.6 25.6m0-25.6l-25.6 25.6M872.9 491.1l25.6 25.6m0-25.6l-25.6 25.6M863.9 479.6l25.6 25.6m0-25.6l-25.6 25.6M896.7 441.4l25.6 25.6m0-25.6l-25.6 25.6M845.7 475.4l25.6 25.6m0-25.6l-25.6 25.6M884.3 476.0l25.6 25.6m0-25.6l-25.6 25.6M861.7 485.5l25.6 25.6m0-25.6l-25.6 25.6M880.9 457.7l25.6 25.6m0-25.6l-25.6 25.6M912.3 475.2l25.6 25.6m0-25.6l-25.6 25.6M857.9 467.8l25.6 25.6m0-25.6l-25.6 25.6M866.8 468.6l25.6 25.6m0-25.6l-25.6 25.6M833.8 464.0l25.6 25.6m0-25.6l-25.6 25.6M895.3 447.8l25.6 25.6m0-25.6l-25.6 25.6M871.5 491.6l25.6 25.6m0-25.6l-25.6 25.6M890.9 497.2l25.6 25.6m0-25.6l-25.6 25.6M838.2 463.8l25.6 25.6m0-25.6l-25.6 25.6M864.0 484.9l25.6 25.6m0-25.6l-25.6 25.6M888.4 437.6l25.6 25.6m0-25.6l-25.6 25.6M895.1 444.7l25.6 25.6m0-25.6l-25.6 25.6M887.7 442.4l25.6 25.6m0-25.6l-25.6 25.6M877.4 495.5l25.6 25.6m0-25.6l-25.6 25.6M869.0 475.0l25.6 25.6m0-25.6l-25.6 25.6M894.3 473.5l25.6 25.6m0-25.6l-25.6 25.6M871.3 499.7l25.6 25.6m0-25.6l-25.6 25.6M899.3 463.8l25.6 25.6m0-25.6l-25.6 25.6M910.3 456.6l25.6 25.6m0-25.6l-25.6 25.6M896.7 464.2l25.6 25.6m0-25.6l-25.6 25.6M876.8 486.8l25.6 25.6m0-25.6l-25.6 25.6M879.2 485.4l25.6 25.6m0-25.6l-25.6 25.6M845.9 446.5l25.6 25.6m0-25.6l-25.6 25.6M888.3 449.5l25.6 25.6m0-25.6l-25.6 25.6M852.5 444.2l25.6 25.6m0-25.6l-25.6 25.6M901.6 484.9l25.6 25.6m0-25.6l-25.6 25.6M903.4 453.3l25.6 25.6m0-25.6l-25.6 25.6M873.2 445.7l25.6 25.6m0-25.6l-25.6 25.6M888.8 498.6l25.6 25.6m0-25.6l-25.6 25.6M855.2 497.8l25.6 25.6m0-25.6l-25.6 25.6M898.3 466.2l25.6 25.6m0-25.6l-25.6 25.6M841.1 490.3l25.6 25.6m0-25.6l-25.6 25.6M870.6 455.7l25.6 25.6m0-25.6l-25.6 25.6M884.2 480.1l25.6 25.6m0-25.6l-25.6 25.6M903.3 452.3l25.6 25.6m0-25.6l-25.6 25.6M895.6 495.8l25.6 25.6m0-25.6l-25.6 25.6M905.8 466.6l25.6 25.6m0-25.6l-25.6 25.6M855.5 491.4l25.6 25.6m0-25.6l-25.6 25.6M876.5 473.3l25.6 25.6m0-25.6l-25.6 25.6M905.3 465.0l25.6 25.6m0-25.6l-25.6 25.6M834.6 464.5l25.6 25.6m0-25.6l-25.6 25.6M838.6 483.6l25.6 25.6m0-25.6l-25.6 25.6M881.8 455.7l25.6 25.6m0-25.6l-25.6 25.6M872.9 489.4l25.6 25.6m0-25.6l-25.6 25.6M875.0 497.3l25.6 25.6m0-25.6l-25.6 25.6M871.7 493.1l25.6 25.6m0-25.6l-25.6 25.6M899.5 495.0l25.6 25.6m0-25.6l-25.6 25.6M856.6 489.3l25.6 25.6m0-25.6l-25.6 25.6M839.8 453.3l25.6 25.6m0-25.6l-25.6 25.6M839.1 486.5l25.6 25.6m0-25.6l-25.6 25.6M843.7 469.9l25.6 25.6m0-25.6l-25.6 25.6M867.7 469.5l25.6 25.6m0-25.6l-25.6 25.6M857.1 475.8l25.6 25.6m0-25.6l-25.6 25.6M909.4 471.0l25.6 25.6m0-25.6l-25.6 25.6M886.3 491.8l25.6 25.6m0-25.6l-25.6 25.6M868.5 444.0l25.6 25.6m0-25.6l-25.6 25.6M859.8 492.9l25.6 25.6m0-25.6l-25.6 25.6M839.5 459.5l25.6 25.6m0-25.6l-25.6 25.6M897.0 486.6l25.6 25.6m0-25.6l-25.6 25.6M873.4 488.9l25.6 25.6m0-25.6l-25.6 25.6M877.2 445.2l25.6 25.6m0-25.6l-25.6 25.6M840.5 458.5l25.6 25.6m0-25.6l-25.6 25.6M896.2 457.8l25.6 25.6m0-25.6l-25.6 25.6M851.3 453.8l25.6 25.6m0-25.6l-25.6 25.6M839.6 467.9l25.6 25.6m0-25.6l-25.6 25.6M844.9 477.8l25.6 25.6m0-25.6l-25.6 25.6M834.3 474.9l25.6 25.6m0-25.6l-25.6 25.6M861.3 438.6l25.6 25.6m0-25.6l-25.6 25.6M892.5 463.8l25.6 25.6m0-25.6l-25.6 25.6M836.6 457.6l25.6 25.6m0-25.6l-25.6 25.6M881.2 459.1l25.6 25.6m0-25.6l-25.6 25.6M892.6 486.5l25.6 25.6m0-25.6l-25.6 25.6M891.0 477.9l25.6 25.6m0-25.6l-25.6 25.6M902.9 483.1l25.6 25.6m0-25.6l-25.6 25.6M881.3 437.3l25.6 25.6m0-25.6l-25.6 25.6M491.3 788.1l25.6 25.6m0-25.6l-25.6 25.6M469.8 759.1l25.6 25.6m0-25.6l-25.6 25.6M499.2 749.4l25.6 25.6m0-25.6l-25.6 25.6M482.0 795.5l25.6 25.6m0-25.6l-25.6 25.6M458.6 780.1l25.6 25.6m0-25.6l-25.6 25.6M504.9 766.5l25.6 25.6m0-25.6l-25.6 25.6M487.1 784.1l25.6 25.6m0-25.6l-25.6 25.6M457.9 766.6l25.6 25.6m0-25.6l-25.6 25.6M482.1 783.4l25.6 25.6m0-25.6l-25.6 25.6M475.4 764.3l25.6 25.6m0-25.6l-25.6 25.6M456.5 761.9l25.6 25.6m0-25.6l-25.6 25.6M494.2 770.1l25.6 25.6m0-25.6l-25.6 25.6M460.2 753.9l25.6 25.6m0-25.6l-25.6 25.6M504.9 779.3l25.6 25.6m0-25.6l-25.6 25.6M483.6 740.9l25.6 25.6m0-25.6l-25.6 25.6M489.0 777.2l25.6 25.6m0-25.6l-25.6 25.6M503.1 774.4l25.6 25.6m0-25.6l-25.6 25.6M474.7 778.4l25.6 25.6m0-25.6l-25.6 25.6M449.6 781.0l25.6 25.6m0-25.6l-25.6 25.6M482.9 755.0l25.6 25.6m0-25.6l-25.6 25.6M494.0 790.2l25.6 25.6m0-25.6l-25.6 25.6M452.4 758.0l25.6 25.6m0-25.6l-25.6 25.6M482.6 771.8l25.6 25.6m0-25.6l-25.6 25.6M468.4 751.0l25.6 25.6m0-25.6l-25.6 25.6M503.6 780.3l25.6 25.6m0-25.6l-25.6 25.6M457.5 749.1l25.6 25.6m0-25.6l-25.6 25.6M501.4 781.4l25.6 25.6m0-25.6l-25.6 25.6M502.9 779.0l25.6 25.6m0-25.6l-25.6 25.6M458.6 773.0l25.6 25.6m0-25.6l-25.6 25.6M447.5 759.2l25.6 25.6m0-25.6l-25.6 25.6M474.9 778.4l25.6 25.6m0-25.6l-25.6 25.6M461.0 765.9l25.6 25.6m0-25.6l-25.6 25.6M486.0 775.5l25.6 25.6m0-25.6l-25.6 25.6M489.6 772.2l25.6 25.6m0-25.6l-25.6 25.6M469.6 782.8l25.6 25.6m0-25.6l-25.6 25.6M477.2 752.9l25.6 25.6m0-25.6l-25.6 25.6M462.9 768.2l25.6 25.6m0-25.6l-25.6 25.6M473.8 771.3l25.6 25.6m0-25.6l-25.6 25.6M476.2 771.7l25.6 25.6m0-25.6l-25.6 25.6M473.7 747.2l25.6 25.6m0-25.6l-25.6 25.6M484.3 786.4l25.6 25.6m0-25.6l-25.6 25.6M485.6 764.5l25.6 25.6m0-25.6l-25.6 25.6M484.9 751.2l25.6 25.6m0-25.6l-25.6 25.6M447.4 769.0l25.6 25.6m0-25.6l-25.6 25.6M458.6 780.8l25.6 25.6m0-25.6l-25.6 25.6M464.3 742.1l25.6 25.6m0-25.6l-25.6 25.6M460.4 789.9l25.6 25.6m0-25.6l-25.6 25.6M469.5 746.3l25.6 25.6m0-25.6l-25.6 25.6M460.9 777.7l25.6 25.6m0-25.6l-25.6 25.6M486.9 771.6l25.6 25.6m0-25.6l-25.6 25.6M500.7 778.7l25.6 25.6m0-25.6l-25.6 25.6M475.8 779.7l25.6 25.6m0-25.6l-25.6 25.6M501.1 781.4l25.6 25.6m0-25.6l-25.6 25.6M493.9 751.2l25.6 25.6m0-25.6l-25.6 25.6M473.1 781.9l25.6 25.6m0-25.6l-25.6 25.6M470.5 786.8l25.6 25.6m0-25.6l-25.6 25.6M487.7 784.1l25.6 25.6m0-25.6l-25.6 25.6M473.6 796.1l25.6 25.6m0-25.6l-25.6 25.6M499.2 764.6l25.6 25.6m0-25.6l-25.6 25.6M477.3 796.2l25.6 25.6m0-25.6l-25.6 25.6M469.3 784.0l25.6 25.6m0-25.6l-25.6 25.6M495.7 768.3l25.6 25.6m0-25.6l-25.6 25.6M454.1 771.4l25.6 25.6m0-25.6l-25.6 25.6M483.0 787.5l25.6 25.6m0-25.6l-25.6 25.6M492.4 768.7l25.6 25.6m0-25.6l-25.6 25.6M493.0 777.8l25.6 25.6m0-25.6l-25.6 25.6M480.8 769.3l25.6 25.6m0-25.6l-25.6 25.6M471.1 781.2l25.6 25.6m0-25.6l-25.6 25.6M456.5 757.6l25.6 25.6m0-25.6l-25.6 25.6M476.3 745.1l25.6 25.6m0-25.6l-25.6 25.6M469.9 742.1l25.6 25.6m0-25.6l-25.6 25.6M462.4 778.6l25.6 25.6m0-25.6l-25.6 25.6M488.3 767.1l25.6 25.6m0-25.6l-25.6 25.6M472.1 745.6l25.6 25.6m0-25.6l-25.6 25.6M503.9 775.3l25.6 25.6m0-25.6l-25.6 25.6M495.6 754.0l25.6 25.6m0-25.6l-25.6 25.6M473.3 742.6l25.6 25.6m0-25.6l-25.6 25.6M490.8 784.0l25.6 25.6m0-25.6l-25.6 25.6M447.4 767.5l25.6 25.6m0-25.6l-25.6 25.6M485.8 743.8l25.6 25.6m0-25.6l-25.6 25.6M450.5 754.6l25.6 25.6m0-25.6l-25.6 25.6M465.5 746.5l25.6 25.6m0-25.6l-25.6 25.6M476.9 773.2l25.6 25.6m0-25.6l-25.6 25.6M488.9 780.9l25.6 25.6m0-25.6l-25.6 25.6M499.0 784.2l25.6 25.6m0-25.6l-25.6 25.6M452.9 760.1l25.6 25.6m0-25.6l-25.6 25.6M458.0 751.4l25.6 25.6m0-25.6l-25.6 25.6M474.4 768.3l25.6 25.6m0-25.6l-25.6 25.6M484.2 744.6l25.6 25.6m0-25.6l-25.6 25.6M453.2 767.8l25.6 25.6m0-25.6l-25.6 25.6M471.8 762.0l25.6 25.6m0-25.6l-25.6 25.6M474.9 753.9l25.6 25.6m0-25.6l-25.6 25.6M490.7 774.8l25.6 25.6m0-25.6l-25.6 25.6M474.4 755.4l25.6 25.6m0-25.6l-25.6 25.6M474.2 740.1l25.6 25.6m0-25.6l-25.6 25.6M456.7 768.9l25.6 25.6m0-25.6l-25.6 25.6M450.4 771.3l25.6 25.6m0-25.6l-25.6 25.6M478.8 745.9l25.6 25.6m0-25.6l-25.6 25.6M470.7 762.0l25.6 25.6m0-25.6l-25.6 25.6M485.7 779.7l25.6 25.6m0-25.6l-25.6 25.6M475.5 752.5l25.6 25.6m0-25.6l-25.6 25.6M473.0 766.9l25.6 25.6m0-25.6l-25.6 25.6M491.4 773.7l25.6 25.6m0-25.6l-25.6 25.6M463.9 747.3l25.6 25.6m0-25.6l-25.6 25.6M468.6 754.5l25.6 25.6m0-25.6l-25.6 25.6M454.8 766.2l25.6 25.6m0-25.6l-25.6 25.6M465.6 770.3l25.6 25.6m0-25.6l-25.6 25.6M487.2 760.3l25.6 25.6m0-25.6l-25.6 25.6M506.4 764.4l25.6 25.6m0-25.6l-25.6 25.6M497.4 770.3l25.6 25.6m0-25.6l-25.6 25.6M489.4 742.8l25.6 25.6m0-25.6l-25.6 25.6M460.7 772.8l25.6 25.6m0-25.6l-25.6 25.6M483.8 795.0l25.6 25.6m0-25.6l-25.6 25.6M482.1 789.3l25.6 25.6m0-25.6l-25.6 25.6M490.5 784.2l25.6 25.6m0-25.6l-25.6 25.6M487.2 765.2l25.6 25.6m0-25.6l-25.6 25.6M485.8 749.8l25.6 25.6m0-25.6l-25.6 25.6M496.2 752.6l25.6 25.6m0-25.6l-25.6 25.6M479.7 795.0l25.6 25.6m0-25.6l-25.6 25.6M471.3 768.6l25.6 25.6m0-25.6l-25.6 25.6M498.3 768.7l25.6 25.6m0-25.6l-25.6 25.6M459.7 773.0l25.6 25.6m0-25.6l-25.6 25.6M487.9 781.1l25.6 25.6m0-25.6l-25.6 25.6M464.6 792.1l25.6 25.6m0-25.6l-25.6 25.6M503.5 768.5l25.6 25.6m0-25.6l-25.6 25.6M482.0 759.8l25.6 25.6m0-25.6l-25.6 25.6M500.0 757.5l25.6 25.6m0-25.6l-25.6 25.6M490.0 759.3l25.6 25.6m0-25.6l-25.6 25.6M462.5 781.1l25.6 25.6m0-25.6l-25.6 25.6M500.4 768.0l25.6 25.6m0-25.6l-25.6 25.6M463.0 782.5l25.6 25.6m0-25.6l-25.6 25.6M475.1 774.4l25.6 25.6m0-25.6l-25.6 25.6M499.3 783.7l25.6 25.6m0-25.6l-25.6 25.6M469.4 795.1l25.6 25.6m0-25.6l-25.6 25.6M476.3 782.9l25.6 25.6m0-25.6l-25.6 25.6M462.5 767.3l25.6 25.6m0-25.6l-25.6 25.6M454.6 788.1l25.6 25.6m0-25.6l-25.6 25.6M497.4 751.1l25.6 25.6m0-25.6l-25.6 25.6M455.7 748.2l25.6 25.6m0-25.6l-25.6 25.6M497.9 760.5l25.6 25.6m0-25.6l-25.6 25.6M474.9 762.0l25.6 25.6m0-25.6l-25.6 25.6M473.9 749.2l25.6 25.6m0-25.6l-25.6 25.6M476.6 745.3l25.6 25.6m0-25.6l-25.6 25.6M474.6 774.3l25.6 25.6m0-25.6l-25.6 25.6M486.3 763.7l25.6 25.6m0-25.6l-25.6 25.6M458.0 771.1l25.6 25.6m0-25.6l-25.6 25.6M468.2 791.6l25.6 25.6m0-25.6l-25.6 25.6M492.1 766.0l25.6 25.6m0-25.6l-25.6 25.6M466.6 755.2l25.6 25.6m0-25.6l-25.6 25.6M457.7 761.9l25.6 25.6m0-25.6l-25.6 25.6M1521.7 815.6l25.6 25.6m0-25.6l-25.6 25.6M1523.3 837.6l25.6 25.6m0-25.6l-25.6 25.6M1500.0 802.5l25.6 25.6m0-25.6l-25.6 25.6M1542.2 780.9l25.6 25.6m0-25.6l-25.6 25.6M1503.7 806.6l25.6 25.6m0-25.6l-25.6 25.6M1518.7 813.0l25.6 25.6m0-25.6l-25.6 25.6M1509.8 811.9l25.6 25.6m0-25.6l-25.6 25.6M1516.3 821.7l25.6 25.6m0-25.6l-25.6 25.6M1487.5 786.8l25.6 25.6m0-25.6l-25.6 25.6M1515.2 777.5l25.6 25.6m0-25.6l-25.6 25.6M1495.0 816.6l25.6 25.6m0-25.6l-25.6 25.6M1501.7 817.8l25.6 25.6m0-25.6l-25.6 25.6M1531.0 809.9l25.6 25.6m0-25.6l-25.6 25.6M1526.5 799.4l25.6 25.6m0-25.6l-25.6 25.6M1489.4 801.5l25.6 25.6m0-25.6l-25.6 25.6M1525.0 788.6l25.6 25.6m0-25.6l-25.6 25.6M1513.1 821.2l25.6 25.6m0-25.6l-25.6 25.6M1497.7 817.3l25.6 25.6m0-25.6l-25.6 25.6M1543.9 792.1l25.6 25.6m0-25.6l-25.6 25.6M1518.5 798.1l25.6 25.6m0-25.6l-25.6 25.6M1542.0 808.7l25.6 25.6m0-25.6l-25.6 25.6M1532.9 786.1l25.6 25.6m0-25.6l-25.6 25.6M1514.8 801.9l25.6 25.6m0-25.6l-25.6 25.6M1490.9 825.6l25.6 25.6m0-25.6l-25.6 25.6M1528.9 770.5l25.6 25.6m0-25.6l-25.6 25.6M1531.2 798.9l25.6 25.6m0-25.6l-25.6 25.6M1525.1 811.8l25.6 25.6m0-25.6l-25.6 25.6M1488.6 797.7l25.6 25.6m0-25.6l-25.6 25.6M1541.0 790.4l25.6 25.6m0-25.6l-25.6 25.6M1498.1 775.3l25.6 25.6m0-25.6l-25.6 25.6M1491.9 809.8l25.6 25.6m0-25.6l-25.6 25.6M1543.1 810.6l25.6 25.6m0-25.6l-25.6 25.6M1518.6 838.9l25.6 25.6m0-25.6l-25.6 25.6M1504.3 785.4l25.6 25.6m0-25.6l-25.6 25.6M1526.5 816.1l25.6 25.6m0-25.6l-25.6 25.6M1497.4 777.9l25.6 25.6m0-25.6l-25.6 25.6M1521.8 808.8l25.6 25.6m0-25.6l-25.6 25.6M1490.7 797.7l25.6 25.6m0-25.6l-25.6 25.6M1503.5 814.0l25.6 25.6m0-25.6l-25.6 25.6M1512.5 799.9l25.6 25.6m0-25.6l-25.6 25.6M1508.2 827.0l25.6 25.6m0-25.6l-25.6 25.6M1540.4 794.3l25.6 25.6m0-25.6l-25.6 25.6M1531.9 784.5l25.6 25.6m0-25.6l-25.6 25.6M1516.7 821.2l25.6 25.6m0-25.6l-25.6 25.6M1541.7 794.3l25.6 25.6m0-25.6l-25.6 25.6M1513.5 807.5l25.6 25.6m0-25.6l-25.6 25.6M1488.5 802.5l25.6 25.6m0-25.6l-25.6 25.6M1500.8 811.6l25.6 25.6m0-25.6l-25.6 25.6M1499.7 770.1l25.6 25.6m0-25.6l-25.6 25.6M1516.1 809.2l25.6 25.6m0-25.6l-25.6 25.6M1504.1 823.4l25.6 25.6m0-25.6l-25.6 25.6M1509.3 786.6l25.6 25.6m0-25.6l-25.6 25.6M1523.3 770.5l25.6 25.6m0-25.6l-25.6 25.6M1500.5 801.7l25.6 25.6m0-25.6l-25.6 25.6M1533.0 798.2l25.6 25.6m0-25.6l-25.6 25.6M1521.8 785.5l25.6 25.6m0-25.6l-25.6 25.6M1520.3 835.2l25.6 25.6m0-25.6l-25.6 25.6M1506.4 838.3l25.6 25.6m0-25.6l-25.6 25.6M1501.1 802.6l25.6 25.6m0-25.6l-25.6 25.6M1518.7 826.7l25.6 25.6m0-25.6l-25.6 25.6M1499.1 769.9l25.6 25.6m0-25.6l-25.6 25.6M1527.6 821.4l25.6 25.6m0-25.6l-25.6 25.6M1522.6 839.2l25.6 25.6m0-25.6l-25.6 25.6M1519.8 809.0l25.6 25.6m0-25.6l-25.6 25.6M1534.1 811.1l25.6 25.6m0-25.6l-25.6 25.6M1539.7 780.6l25.6 25.6m0-25.6l-25.6 25.6M1511.7 764.0l25.6 25.6m0-25.6l-25.6 25.6M1532.2 793.0l25.6 25.6m0-25.6l-25.6 25.6M1527.6 836.4l25.6 25.6m0-25.6l-25.6 25.6M1515.1 795.3l25.6 25.6m0-25.6l-25.6 25.6M1505.0 781.9l25.6 25.6m0-25.6l-25.6 25.6M1502.1 818.0l25.6 25.6m0-25.6l-25.6 25.6M1516.0 804.0l25.6 25.6m0-25.6l-25.6 25.6M1511.6 824.6l25.6 25.6m0-25.6l-25.6 25.6M1526.2 798.5l25.6 25.6m0-25.6l-25.6 25.6M1529.6 798.3l25.6 25.6m0-25.6l-25.6 25.6M1496.9 829.6l25.6 25.6m0-25.6l-25.6 25.6M1524.5 779.4l25.6 25.6m0-25.6l-25.6 25.6M1536.5 810.3l25.6 25.6m0-25.6l-25.6 25.6M1493.5 828.7l25.6 25.6m0-25.6l-25.6 25.6M1522.1 824.0l25.6 25.6m0-25.6l-25.6 25.6M1519.7 798.2l25.6 25.6m0-25.6l-25.6 25.6M1490.4 820.6l25.6 25.6m0-25.6l-25.6 25.6M1515.9 794.5l25.6 25.6m0-25.6l-25.6 25.6M1523.1 804.3l25.6 25.6m0-25.6l-25.6 25.6M1529.6 792.8l25.6 25.6m0-25.6l-25.6 25.6M1514.7 765.7l25.6 25.6m0-25.6l-25.6 25.6M1506.2 819.2l25.6 25.6m0-25.6l-25.6 25.6M1539.8 794.3l25.6 25.6m0-25.6l-25.6 25.6M1513.1 834.7l25.6 25.6m0-25.6l-25.6 25.6M1508.3 820.7l25.6 25.6m0-25.6l-25.6 25.6M1543.4 803.0l25.6 25.6m0-25.6l-25.6 25.6M1537.6 786.8l25.6 25.6m0-25.6l-25.6 25.6M1519.9 800.1l25.6 25.6m0-25.6l-25.6 25.6M1517.5 828.6l25.6 25.6m0-25.6l-25.6 25.6M1545.8 792.1l25.6 25.6m0-25.6l-25.6 25.6M1502.9 814.8l25.6 25.6m0-25.6l-25.6 25.6M1494.5 813.7l25.6 25.6m0-25.6l-25.6 25.6M1527.7 795.0l25.6 25.6m0-25.6l-25.6 25.6M1524.3 770.9l25.6 25.6m0-25.6l-25.6 25.6M1527.8 771.8l25.6 25.6m0-25.6l-25.6 25.6M1500.7 788.4l25.6 25.6m0-25.6l-25.6 25.6M1506.9 823.2l25.6 25.6m0-25.6l-25.6 25.6M1517.0 791.6l25.6 25.6m0-25.6l-25.6 25.6M1524.4 833.8l25.6 25.6m0-25.6l-25.6 25.6M1515.3 812.0l25.6 25.6m0-25.6l-25.6 25.6M1538.8 808.2l25.6 25.6m0-25.6l-25.6 25.6M1500.5 836.1l25.6 25.6m0-25.6l-25.6 25.6M1539.2 776.6l25.6 25.6m0-25.6l-25.6 25.6M1514.3 813.3l25.6 25.6m0-25.6l-25.6 25.6M1534.1 817.7l25.6 25.6m0-25.6l-25.6 25.6M1509.8 777.3l25.6 25.6m0-25.6l-25.6 25.6M1517.3 826.9l25.6 25.6m0-25.6l-25.6 25.6M1495.8 780.5l25.6 25.6m0-25.6l-25.6 25.6M1514.8 766.8l25.6 25.6m0-25.6l-25.6 25.6M1509.4 790.7l25.6 25.6m0-25.6l-25.6 25.6M1524.7 784.6l25.6 25.6m0-25.6l-25.6 25.6M1497.1 792.6l25.6 25.6m0-25.6l-25.6 25.6M1514.1 785.1l25.6 25.6m0-25.6l-25.6 25.6M1515.5 821.3l25.6 25.6m0-25.6l-25.6 25.6M1532.6 831.9l25.6 25.6m0-25.6l-25.6 25.6M1498.8 791.8l25.6 25.6m0-25.6l-25.6 25.6M1489.5 825.5l25.6 25.6m0-25.6l-25.6 25.6M1499.6 801.3l25.6 25.6m0-25.6l-25.6 25.6M1524.6 773.2l25.6 25.6m0-25.6l-25.6 25.6M1525.6 801.5l25.6 25.6m0-25.6l-25.6 25.6M1486.2 807.7l25.6 25.6m0-25.6l-25.6 25.6M1531.9 771.2l25.6 25.6m0-25.6l-25.6 25.6M1532.2 807.4l25.6 25.6m0-25.6l-25.6 25.6M1525.6 813.6l25.6 25.6m0-25.6l-25.6 25.6M1539.7 797.2l25.6 25.6m0-25.6l-25.6 25.6M1533.2 792.2l25.6 25.6m0-25.6l-25.6 25.6M1529.7 783.0l25.6 25.6m0-25.6l-25.6 25.6M1513.4 836.1l25.6 25.6m0-25.6l-25.6 25.6M1525.2 798.0l25.6 25.6m0-25.6l-25.6 25.6M1494.1 785.0l25.6 25.6m0-25.6l-25.6 25.6M1519.2 825.1l25.6 25.6m0-25.6l-25.6 25.6M1524.5 815.7l25.6 25.6m0-25.6l-25.6 25.6M1514.4 832.0l25.6 25.6m0-25.6l-25.6 25.6M1506.7 788.0l25.6 25.6m0-25.6l-25.6 25.6M1533.7 803.8l25.6 25.6m0-25.6l-25.6 25.6M1509.1 787.3l25.6 25.6m0-25.6l-25.6 25.6M1509.6 818.3l25.6 25.6m0-25.6l-25.6 25.6M1522.0 774.8l25.6 25.6m0-25.6l-25.6 25.6M1524.7 806.9l25.6 25.6m0-25.6l-25.6 25.6M1496.1 819.7l25.6 25.6m0-25.6l-25.6 25.6M1508.9 793.3l25.6 25.6m0-25.6l-25.6 25.6M1529.2 829.7l25.6 25.6m0-25.6l-25.6 25.6M1500.6 813.2l25.6 25.6m0-25.6l-25.6 25.6M1504.0 837.4l25.6 25.6m0-25.6l-25.6 25.6M1505.9 829.0l25.6 25.6m0-25.6l-25.6 25.6M1502.1 821.6l25.6 25.6m0-25.6l-25.6 25.6M1536.5 773.2l25.6 25.6m0-25.6l-25.6 25.6M1505.7 815.1l25.6 25.6m0-25.6l-25.6 25.6M1513.2 785.0l25.6 25.6m0-25.6l-25.6 25.6M1546.0 803.5l25.6 25.6m0-25.6l-25.6 25.6M1489.1 818.3l25.6 25.6m0-25.6l-25.6 25.6M1489.8 822.3l25.6 25.6m0-25.6l-25.6 25.6M1502.5 806.0l25.6 25.6m0-25.6l-25.6 25.6M1539.2 804.9l25.6 25.6m0-25.6l-25.6 25.6M1495.5 773.8l25.6 25.6m0-25.6l-25.6 25.6M1536.9 818.3l25.6 25.6m0-25.6l-25.6 25.6M1499.3 822.0l25.6 25.6m0-25.6l-25.6 25.6M1525.7 818.5l25.6 25.6m0-25.6l-25.6 25.6M1484.2 797.3l25.6 25.6m0-25.6l-25.6 25.6M1532.8 819.2l25.6 25.6m0-25.6l-25.6 25.6M1526.0 766.6l25.6 25.6m0-25.6l-25.6 25.6M1519.0 815.2l25.6 25.6m0-25.6l-25.6 25.6M1545.3 788.9l25.6 25.6m0-25.6l-25.6 25.6M1507.7 803.2l25.6 25.6m0-25.6l-25.6 25.6M1533.3 791.5l25.6 25.6m0-25.6l-25.6 25.6M1536.3 785.0l25.6 25.6m0-25.6l-25.6 25.6M1521.1 788.4l25.6 25.6m0-25.6l-25.6 25.6M1518.6 784.5l25.6 25.6m0-25.6l-25.6 25.6M1490.5 822.2l25.6 25.6m0-25.6l-25.6 25.6M1521.8 787.7l25.6 25.6m0-25.6l-25.6 25.6M1519.3 826.1l25.6 25.6m0-25.6l-25.6 25.6M1495.2 799.5l25.6 25.6m0-25.6l-25.6 25.6M1526.8 815.6l25.6 25.6m0-25.6l-25.6 25.6M1510.4 766.2l25.6 25.6m0-25.6l-25.6 25.6M1538.8 809.6l25.6 25.6m0-25.6l-25.6 25.6M1515.5 794.7l25.6 25.6m0-25.6l-25.6 25.6M1521.1 791.0l25.6 25.6m0-25.6l-25.6 25.6M1495.7 785.5l25.6 25.6m0-25.6l-25.6 25.6M1502.6 786.9l25.6 25.6m0-25.6l-25.6 25.6M1493.5 816.3l25.6 25.6m0-25.6l-25.6 25.6M1491.6 816.3l25.6 25.6m0-25.6l-25.6 25.6M1494.9 810.6l25.6 25.6m0-25.6l-25.6 25.6M1540.5 806.6l25.6 25.6m0-25.6l-25.6 25.6M1499.5 803.4l25.6 25.6m0-25.6l-25.6 25.6M1517.6 768.3l25.6 25.6m0-25.6l-25.6 25.6M1501.9 806.4l25.6 25.6m0-25.6l-25.6 25.6M1504.7 804.3l25.6 25.6m0-25.6l-25.6 25.6M1529.9 820.4l25.6 25.6m0-25.6l-25.6 25.6M1533.3 816.1l25.6 25.6m0-25.6l-25.6 25.6M1508.7 801.7l25.6 25.6m0-25.6l-25.6 25.6M1509.1 793.9l25.6 25.6m0-25.6l-25.6 25.6M1512.2 768.4l25.6 25.6m0-25.6l-25.6 25.6M1507.6 801.6l25.6 25.6m0-25.6l-25.6 25.6M1495.2 801.6l25.6 25.6m0-25.6l-25.6 25.6M1526.6 797.9l25.6 25.6m0-25.6l-25.6 25.6M1535.4 772.1l25.6 25.6m0-25.6l-25.6 25.6M1511.9 767.7l25.6 25.6m0-25.6l-25.6 25.6M1526.4 838.0l25.6 25.6m0-25.6l-25.6 25.6M1483.5 804.1l25.6 25.6m0-25.6l-25.6 25.6M1526.6 794.3l25.6 25.6m0-25.6l-25.6 25.6M1522.7 766.1l25.6 25.6m0-25.6l-25.6 25.6M1532.8 811.3l25.6 25.6m0-25.6l-25.6 25.6M1515.7 786.9l25.6 25.6m0-25.6l-25.6 25.6M1528.8 790.0l25.6 25.6m0-25.6l-25.6 25.6M1520.1 788.8l25.6 25.6m0-25.6l-25.6 25.6M1484.0 801.7l25.6 25.6m0-25.6l-25.6 25.6M1519.5 821.3l25.6 25.6m0-25.6l-25.6 25.6M1496.9 801.4l25.6 25.6m0-25.6l-25.6 25.6M1528.7 806.0l25.6 25.6m0-25.6l-25.6 25.6M1531.8 833.8l25.6 25.6m0-25.6l-25.6 25.6M1502.0 769.3l25.6 25.6m0-25.6l-25.6 25.6M1529.3 832.0l25.6 25.6m0-25.6l-25.6 25.6M1533.0 820.8l25.6 25.6m0-25.6l-25.6 25.6M1502.4 784.8l25.6 25.6m0-25.6l-25.6 25.6M1532.1 781.7l25.6 25.6m0-25.6l-25.6 25.6M1488.4 784.8l25.6 25.6m0-25.6l-25.6 25.6M1540.8 825.6l25.6 25.6m0-25.6l-25.6 25.6M1501.2 784.6l25.6 25.6m0-25.6l-25.6 25.6M1520.1 783.3l25.6 25.6m0-25.6l-25.6 25.6M1539.9 800.5l25.6 25.6m0-25.6l-25.6 25.6M1497.1 828.1l25.6 25.6m0-25.6l-25.6 25.6M1502.4 807.9l25.6 25.6m0-25.6l-25.6 25.6M1514.9 793.7l25.6 25.6m0-25.6l-25.6 25.6M1522.2 784.6l25.6 25.6m0-25.6l-25.6 25.6M1913.5 776.4l25.6 25.6m0-25.6l-25.6 25.6M1910.8 788.9l25.6 25.6m0-25.6l-25.6 25.6M1940.5 805.6l25.6 25.6m0-25.6l-25.6 25.6M1957.6 807.2l25.6 25.6m0-25.6l-25.6 25.6M1919.9 788.2l25.6 25.6m0-25.6l-25.6 25.6M1900.2 801.5l25.6 25.6m0-25.6l-25.6 25.6M1955.2 817.0l25.6 25.6m0-25.6l-25.6 25.6M1937.5 799.7l25.6 25.6m0-25.6l-25.6 25.6M1967.1 804.6l25.6 25.6m0-25.6l-25.6 25.6M1961.6 817.7l25.6 25.6m0-25.6l-25.6 25.6M1946.6 831.7l25.6 25.6m0-25.6l-25.6 25.6M1924.5 795.4l25.6 25.6m0-25.6l-25.6 25.6M1919.9 786.5l25.6 25.6m0-25.6l-25.6 25.6M1969.1 830.7l25.6 25.6m0-25.6l-25.6 25.6M1941.9 818.3l25.6 25.6m0-25.6l-25.6 25.6M1969.8 820.7l25.6 25.6m0-25.6l-25.6 25.6M1967.8 780.8l25.6 25.6m0-25.6l-25.6 25.6M1922.9 815.0l25.6 25.6m0-25.6l-25.6 25.6M1976.0 806.3l25.6 25.6m0-25.6l-25.6 25.6M1917.4 796.0l25.6 25.6m0-25.6l-25.6 25.6M1923.5 784.9l25.6 25.6m0-25.6l-25.6 25.6M1975.6 792.2l25.6 25.6m0-25.6l-25.6 25.6M1941.6 838.9l25.6 25.6m0-25.6l-25.6 25.6M1971.7 811.5l25.6 25.6m0-25.6l-25.6 25.6M1923.6 814.1l25.6 25.6m0-25.6l-25.6 25.6M1977.0 815.8l25.6 25.6m0-25.6l-25.6 25.6M1973.4 806.3l25.6 25.6m0-25.6l-25.6 25.6M1956.5 799.2l25.6 25.6m0-25.6l-25.6 25.6M1951.8 831.2l25.6 25.6m0-25.6l-25.6 25.6M1906.4 802.9l25.6 25.6m0-25.6l-25.6 25.6M1948.2 790.1l25.6 25.6m0-25.6l-25.6 25.6M1932.5 822.8l25.6 25.6m0-25.6l-25.6 25.6M1980.3 814.5l25.6 25.6m0-25.6l-25.6 25.6M1948.8 774.0l25.6 25.6m0-25.6l-25.6 25.6M1981.1 805.5l25.6 25.6m0-25.6l-25.6 25.6M1940.3 779.3l25.6 25.6m0-25.6l-25.6 25.6M1939.7 779.7l25.6 25.6m0-25.6l-25.6 25.6M1943.3 815.9l25.6 25.6m0-25.6l-25.6 25.6M1942.2 811.3l25.6 25.6m0-25.6l-25.6 25.6M1921.9 831.3l25.6 25.6m0-25.6l-25.6 25.6M1927.7 772.6l25.6 25.6m0-25.6l-25.6 25.6M1935.9 785.9l25.6 25.6m0-25.6l-25.6 25.6M1914.1 796.2l25.6 25.6m0-25.6l-25.6 25.6M1948.7 778.6l25.6 25.6m0-25.6l-25.6 25.6M1937.9 833.3l25.6 25.6m0-25.6l-25.6 25.6M1961.0 800.5l25.6 25.6m0-25.6l-25.6 25.6M1945.1 801.1l25.6 25.6m0-25.6l-25.6 25.6M1939.8 821.9l25.6 25.6m0-25.6l-25.6 25.6M1939.6 768.7l25.6 25.6m0-25.6l-25.6 25.6M1940.6 783.3l25.6 25.6m0-25.6l-25.6 25.6M1959.4 789.9l25.6 25.6m0-25.6l-25.6 25.6M1944.0 838.9l25.6 25.6m0-25.6l-25.6 25.6M1916.5 782.0l25.6 25.6m0-25.6l-25.6 25.6M1919.3 773.1l25.6 25.6m0-25.6l-25.6 25.6M1902.1 810.6l25.6 25.6m0-25.6l-25.6 25.6M1928.2 772.2l25.6 25.6m0-25.6l-25.6 25.6M1907.0 816.1l25.6 25.6m0-25.6l-25.6 25.6M1919.4 795.5l25.6 25.6m0-25.6l-25.6 25.6M1949.3 832.2l25.6 25.6m0-25.6l-25.6 25.6M1977.9 820.6l25.6 25.6m0-25.6l-25.6 25.6M1945.6 808.9l25.6 25.6m0-25.6l-25.6 25.6M1974.1 826.1l25.6 25.6m0-25.6l-25.6 25.6M1932.0 815.6l25.6 25.6m0-25.6l-25.6 25.6M1949.9 805.5l25.6 25.6m0-25.6l-25.6 25.6M1929.0 777.0l25.6 25.6m0-25.6l-25.6 25.6M1929.0 774.6l25.6 25.6m0-25.6l-25.6 25.6M1971.8 815.5l25.6 25.6m0-25.6l-25.6 25.6M1915.5 829.2l25.6 25.6m0-25.6l-25.6 25.6M1958.6 773.0l25.6 25.6m0-25.6l-25.6 25.6M1978.3 817.9l25.6 25.6m0-25.6l-25.6 25.6M1977.5 786.0l25.6 25.6m0-25.6l-25.6 25.6M1956.6 814.5l25.6 25.6m0-25.6l-25.6 25.6M1947.4 808.6l25.6 25.6m0-25.6l-25.6 25.6M1963.8 777.3l25.6 25.6m0-25.6l-25.6 25.6M1914.9 779.4l25.6 25.6m0-25.6l-25.6 25.6M1925.4 789.8l25.6 25.6m0-25.6l-25.6 25.6M1952.2 810.9l25.6 25.6m0-25.6l-25.6 25.6M1942.1 787.7l25.6 25.6m0-25.6l-25.6 25.6M1929.3 825.8l25.6 25.6m0-25.6l-25.6 25.6M1963.0 806.6l25.6 25.6m0-25.6l-25.6 25.6M1933.7 834.4l25.6 25.6m0-25.6l-25.6 25.6M1924.6 819.4l25.6 25.6m0-25.6l-25.6 25.6M1971.3 798.4l25.6 25.6m0-25.6l-25.6 25.6M1961.5 781.1l25.6 25.6m0-25.6l-25.6 25.6M1968.6 808.7l25.6 25.6m0-25.6l-25.6 25.6M1906.0 816.7l25.6 25.6m0-25.6l-25.6 25.6M1920.3 829.3l25.6 25.6m0-25.6l-25.6 25.6M1921.5 800.2l25.6 25.6m0-25.6l-25.6 25.6M1949.7 795.8l25.6 25.6m0-25.6l-25.6 25.6M1948.8 790.6l25.6 25.6m0-25.6l-25.6 25.6M1960.8 804.3l25.6 25.6m0-25.6l-25.6 25.6M1944.5 768.2l25.6 25.6m0-25.6l-25.6 25.6M1971.7 804.9l25.6 25.6m0-25.6l-25.6 25.6M1902.4 805.9l25.6 25.6m0-25.6l-25.6 25.6M1953.4 827.7l25.6 25.6m0-25.6l-25.6 25.6M1918.5 831.5l25.6 25.6m0-25.6l-25.6 25.6M1938.4 839.6l25.6 25.6m0-25.6l-25.6 25.6M1937.0 820.7l25.6 25.6m0-25.6l-25.6 25.6M1931.6 779.7l25.6 25.6m0-25.6l-25.6 25.6M1968.0 822.8l25.6 25.6m0-25.6l-25.6 25.6M1974.9 820.0l25.6 25.6m0-25.6l-25.6 25.6M1928.6 773.6l25.6 25.6m0-25.6l-25.6 25.6M1923.2 788.5l25.6 25.6m0-25.6l-25.6 25.6M1919.0 817.5l25.6 25.6m0-25.6l-25.6 25.6M1951.1 797.4l25.6 25.6m0-25.6l-25.6 25.6M1946.5 800.5l25.6 25.6m0-25.6l-25.6 25.6M1947.3 822.2l25.6 25.6m0-25.6l-25.6 25.6M1966.3 789.2l25.6 25.6m0-25.6l-25.6 25.6M1911.5 827.8l25.6 25.6m0-25.6l-25.6 25.6M1944.2 828.8l25.6 25.6m0-25.6l-25.6 25.6M1904.2 798.0l25.6 25.6m0-25.6l-25.6 25.6M1941.9 774.9l25.6 25.6m0-25.6l-25.6 25.6M1926.8 821.2l25.6 25.6m0-25.6l-25.6 25.6M1963.6 832.0l25.6 25.6m0-25.6l-25.6 25.6M1921.5 777.4l25.6 25.6m0-25.6l-25.6 25.6M1955.2 825.4l25.6 25.6m0-25.6l-25.6 25.6M1946.1 776.7l25.6 25.6m0-25.6l-25.6 25.6M1962.0 821.9l25.6 25.6m0-25.6l-25.6 25.6M1957.1 792.4l25.6 25.6m0-25.6l-25.6 25.6M1949.8 822.9l25.6 25.6m0-25.6l-25.6 25.6M1929.6 772.1l25.6 25.6m0-25.6l-25.6 25.6M1950.9 816.1l25.6 25.6m0-25.6l-25.6 25.6M1941.6 825.1l25.6 25.6m0-25.6l-25.6 25.6M1923.9 802.2l25.6 25.6m0-25.6l-25.6 25.6M1932.3 818.2l25.6 25.6m0-25.6l-25.6 25.6M1977.9 799.4l25.6 25.6m0-25.6l-25.6 25.6M1975.4 825.6l25.6 25.6m0-25.6l-25.6 25.6M1962.9 817.7l25.6 25.6m0-25.6l-25.6 25.6M1979.8 800.9l25.6 25.6m0-25.6l-25.6 25.6M1938.2 780.3l25.6 25.6m0-25.6l-25.6 25.6M1952.7 831.7l25.6 25.6m0-25.6l-25.6 25.6M1956.7 814.5l25.6 25.6m0-25.6l-25.6 25.6M1935.1 808.5l25.6 25.6m0-25.6l-25.6 25.6M1910.0 823.4l25.6 25.6m0-25.6l-25.6 25.6M1930.5 780.0l25.6 25.6m0-25.6l-25.6 25.6M1921.3 785.8l25.6 25.6m0-25.6l-25.6 25.6M1962.4 826.3l25.6 25.6m0-25.6l-25.6 25.6M1910.3 821.9l25.6 25.6m0-25.6l-25.6 25.6M1965.1 791.1l25.6 25.6m0-25.6l-25.6 25.6M1907.5 790.0l25.6 25.6m0-25.6l-25.6 25.6M1922.9 812.5l25.6 25.6m0-25.6l-25.6 25.6M1934.1 770.5l25.6 25.6m0-25.6l-25.6 25.6M1946.7 774.0l25.6 25.6m0-25.6l-25.6 25.6M1962.7 780.1l25.6 25.6m0-25.6l-25.6 25.6M1922.7 785.1l25.6 25.6m0-25.6l-25.6 25.6M1927.9 830.9l25.6 25.6m0-25.6l-25.6 25.6M1964.2 817.8l25.6 25.6m0-25.6l-25.6 25.6M1948.6 774.0l25.6 25.6m0-25.6l-25.6 25.6M1926.3 790.9l25.6 25.6m0-25.6l-25.6 25.6M1915.2 815.6l25.6 25.6m0-25.6l-25.6 25.6M1921.1 788.0l25.6 25.6m0-25.6l-25.6 25.6M1922.2 772.8l25.6 25.6m0-25.6l-25.6 25.6M1955.6 831.2l25.6 25.6m0-25.6l-25.6 25.6M1946.0 781.8l25.6 25.6m0-25.6l-25.6 25.6M1898.3 806.5l25.6 25.6m0-25.6l-25.6 25.6M1972.3 810.6l25.6 25.6m0-25.6l-25.6 25.6M1961.6 831.5l25.6 25.6m0-25.6l-25.6 25.6M1970.4 794.6l25.6 25.6m0-25.6l-25.6 25.6M1967.7 820.6l25.6 25.6m0-25.6l-25.6 25.6M1905.6 796.3l25.6 25.6m0-25.6l-25.6 25.6M1906.5 802.0l25.6 25.6m0-25.6l-25.6 25.6M1956.2 781.0l25.6 25.6m0-25.6l-25.6 25.6M1905.4 823.2l25.6 25.6m0-25.6l-25.6 25.6M1950.1 833.5l25.6 25.6m0-25.6l-25.6 25.6M1911.6 824.1l25.6 25.6m0-25.6l-25.6 25.6M1972.2 829.4l25.6 25.6m0-25.6l-25.6 25.6M1934.8 811.0l25.6 25.6m0-25.6l-25.6 25.6M1937.0 827.0l25.6 25.6m0-25.6l-25.6 25.6M1969.2 806.2l25.6 25.6m0-25.6l-25.6 25.6M1909.3 818.8l25.6 25.6m0-25.6l-25.6 25.6M1927.8 819.3l25.6 25.6m0-25.6l-25.6 25.6M1947.2 835.2l25.6 25.6m0-25.6l-25.6 25.6M1970.6 794.4l25.6 25.6m0-25.6l-25.6 25.6M1948.8 836.3l25.6 25.6m0-25.6l-25.6 25.6M1925.6 814.8l25.6 25.6m0-25.6l-25.6 25.6M1967.6 827.6l25.6 25.6m0-25.6l-25.6 25.6M1953.9 777.1l25.6 25.6m0-25.6l-25.6 25.6M1909.2 809.5l25.6 25.6m0-25.6l-25.6 25.6M1947.6 839.6l25.6 25.6m0-25.6l-25.6 25.6M1920.2 827.5l25.6 25.6m0-25.6l-25.6 25.6M1957.7 774.3l25.6 25.6m0-25.6l-25.6 25.6M1918.1 808.1l25.6 25.6m0-25.6l-25.6 25.6M1926.5 800.3l25.6 25.6m0-25.6l-25.6 25.6M1954.2 785.4l25.6 25.6m0-25.6l-25.6 25.6M1954.5 789.0l25.6 25.6m0-25.6l-25.6 25.6M1925.6 817.1l25.6 25.6m0-25.6l-25.6 25.6M1924.4 811.2l25.6 25.6m0-25.6l-25.6 25.6M1978.2 804.7l25.6 25.6m0-25.6l-25.6 25.6M1937.0 821.9l25.6 25.6m0-25.6l-25.6 25.6M1931.6 828.1l25.6 25.6m0-25.6l-25.6 25.6M1909.9 816.9l25.6 25.6m0-25.6l-25.6 25.6M1927.1 785.7l25.6 25.6m0-25.6l-25.6 25.6M1977.4 789.6l25.6 25.6m0-25.6l-25.6 25.6M1978.3 815.9l25.6 25.6m0-25.6l-25.6 25.6M1973.2 786.2l25.6 25.6m0-25.6l-25.6 25.6M1966.4 829.9l25.6 25.6m0-25.6l-25.6 25.6M1937.6 800.9l25.6 25.6m0-25.6l-25.6 25.6M1983.5 806.8l25.6 25.6m0-25.6l-25.6 25.6M1929.1 789.0l25.6 25.6m0-25.6l-25.6 25.6M1954.4 812.4l25.6 25.6m0-25.6l-25.6 25.6M731.5 1225.4l25.6 25.6m0-25.6l-25.6 25.6M720.1 1206.3l25.6 25.6m0-25.6l-25.6 25.6M755.0 1177.8l25.6 25.6m0-25.6l-25.6 25.6M745.2 1223.5l25.6 25.6m0-25.6l-25.6 25.6M703.1 1176.0l25.6 25.6m0-25.6l-25.6 25.6M711.3 1166.8l25.6 25.6m0-25.6l-25.6 25.6M736.1 1164.5l25.6 25.6m0-25.6l-25.6 25.6M738.1 1222.4l25.6 25.6m0-25.6l-25.6 25.6M697.3 1189.5l25.6 25.6m0-25.6l-25.6 25.6M696.4 1207.4l25.6 25.6m0-25.6l-25.6 25.6M710.5 1189.2l25.6 25.6m0-25.6l-25.6 25.6M729.6 1208.0l25.6 25.6m0-25.6l-25.6 25.6M719.4 1195.6l25.6 25.6m0-25.6l-25.6 25.6M714.6 1197.9l25.6 25.6m0-25.6l-25.6 25.6M702.5 1196.5l25.6 25.6m0-25.6l-25.6 25.6M695.3 1187.3l25.6 25.6m0-25.6l-25.6 25.6M761.6 1196.5l25.6 25.6m0-25.6l-25.6 25.6M701.4 1200.4l25.6 25.6m0-25.6l-25.6 25.6M711.2 1167.9l25.6 25.6m0-25.6l-25.6 25.6M711.5 1211.0l25.6 25.6m0-25.6l-25.6 25.6M737.9 1192.9l25.6 25.6m0-25.6l-25.6 25.6M709.2 1174.3l25.6 25.6m0-25.6l-25.6 25.6M756.2 1200.0l25.6 25.6m0-25.6l-25.6 25.6M713.7 1164.8l25.6 25.6m0-25.6l-25.6 25.6M710.7 1225.1l25.6 25.6m0-25.6l-25.6 25.6M702.8 1193.6l25.6 25.6m0-25.6l-25.6 25.6M733.6 1191.4l25.6 25.6m0-25.6l-25.6 25.6M722.5 1168.5l25.6 25.6m0-25.6l-25.6 25.6M710.3 1222.4l25.6 25.6m0-25.6l-25.6 25.6M711.4 1212.9l25.6 25.6m0-25.6l-25.6 25.6M696.6 1190.4l25.6 25.6m0-25.6l-25.6 25.6M734.1 1217.3l25.6 25.6m0-25.6l-25.6 25.6M704.2 1207.2l25.6 25.6m0-25.6l-25.6 25.6M737.4 1178.7l25.6 25.6m0-25.6l-25.6 25.6M739.1 1175.8l25.6 25.6m0-25.6l-25.6 25.6M709.2 1194.8l25.6 25.6m0-25.6l-25.6 25.6M692.2 1193.8l25.6 25.6m0-25.6l-25.6 25.6M709.9 1169.9l25.6 25.6m0-25.6l-25.6 25.6M718.2 1212.2l25.6 25.6m0-25.6l-25.6 25.6M719.7 1220.4l25.6 25.6m0-25.6l-25.6 25.6M706.8 1172.3l25.6 25.6m0-25.6l-25.6 25.6M758.3 1202.5l25.6 25.6m0-25.6l-25.6 25.6M748.5 1178.4l25.6 25.6m0-25.6l-25.6 25.6M747.2 1201.0l25.6 25.6m0-25.6l-25.6 25.6M744.1 1195.8l25.6 25.6m0-25.6l-25.6 25.6M753.3 1182.4l25.6 25.6m0-25.6l-25.6 25.6M710.5 1169.5l25.6 25.6m0-25.6l-25.6 25.6M752.3 1180.7l25.6 25.6m0-25.6l-25.6 25.6M706.7 1176.9l25.6 25.6m0-25.6l-25.6 25.6M718.9 1170.1l25.6 25.6m0-25.6l-25.6 25.6M721.1 1180.8l25.6 25.6m0-25.6l-25.6 25.6M715.9 1175.0l25.6 25.6m0-25.6l-25.6 25.6M729.1 1184.3l25.6 25.6m0-25.6l-25.6 25.6M731.1 1201.2l25.6 25.6m0-25.6l-25.6 25.6M733.6 1162.6l25.6 25.6m0-25.6l-25.6 25.6M715.8 1177.8l25.6 25.6m0-25.6l-25.6 25.6M742.5 1167.7l25.6 25.6m0-25.6l-25.6 25.6M711.1 1188.5l25.6 25.6m0-25.6l-25.6 25.6M720.6 1216.4l25.6 25.6m0-25.6l-25.6 25.6M718.2 1215.8l25.6 25.6m0-25.6l-25.6 25.6M706.0 1169.3l25.6 25.6m0-25.6l-25.6 25.6M754.1 1203.9l25.6 25.6m0-25.6l-25.6 25.6M740.4 1198.1l25.6 25.6m0-25.6l-25.6 25.6M738.4 1170.9l25.6 25.6m0-25.6l-25.6 25.6M749.5 1183.9l25.6 25.6m0-25.6l-25.6 25.6M750.8 1197.1l25.6 25.6m0-25.6l-25.6 25.6M698.6 1177.0l25.6 25.6m0-25.6l-25.6 25.6M753.2 1192.3l25.6 25.6m0-25.6l-25.6 25.6M718.3 1201.0l25.6 25.6m0-25.6l-25.6 25.6M717.9 1182.7l25.6 25.6m0-25.6l-25.6 25.6M730.8 1198.7l25.6 25.6m0-25.6l-25.6 25.6M758.4 1196.1l25.6 25.6m0-25.6l-25.6 25.6M754.1 1218.7l25.6 25.6m0-25.6l-25.6 25.6M757.1 1212.1l25.6 25.6m0-25.6l-25.6 25.6M731.6 1198.5l25.6 25.6m0-25.6l-25.6 25.6M724.8 1178.5l25.6 25.6m0-25.6l-25.6 25.6M726.6 1180.3l25.6 25.6m0-25.6l-25.6 25.6M758.7 1204.6l25.6 25.6m0-25.6l-25.6 25.6M720.5 1164.1l25.6 25.6m0-25.6l-25.6 25.6M726.9 1185.3l25.6 25.6m0-25.6l-25.6 25.6M707.0 1174.2l25.6 25.6m0-25.6l-25.6 25.6M694.0 1203.4l25.6 25.6m0-25.6l-25.6 25.6M727.3 1229.1l25.6 25.6m0-25.6l-25.6 25.6M727.4 1191.6l25.6 25.6m0-25.6l-25.6 25.6M757.5 1197.8l25.6 25.6m0-25.6l-25.6 25.6M732.4 1186.3l25.6 25.6m0-25.6l-25.6 25.6M716.5 1222.5l25.6 25.6m0-25.6l-25.6 25.6M745.3 1222.9l25.6 25.6m0-25.6l-25.6 25.6M719.3 1195.9l25.6 25.6m0-25.6l-25.6 25.6M709.6 1214.5l25.6 25.6m0-25.6l-25.6 25.6M700.4 1205.9l25.6 25.6m0-25.6l-25.6 25.6M748.2 1219.5l25.6 25.6m0-25.6l-25.6 25.6M709.1 1216.2l25.6 25.6m0-25.6l-25.6 25.6M712.0 1179.0l25.6 25.6m0-25.6l-25.6 25.6M703.8 1215.3l25.6 25.6m0-25.6l-25.6 25.6M758.6 1184.8l25.6 25.6m0-25.6l-25.6 25.6M710.2 1187.6l25.6 25.6m0-25.6l-25.6 25.6M761.6 1207.9l25.6 25.6m0-25.6l-25.6 25.6M718.6 1165.2l25.6 25.6m0-25.6l-25.6 25.6M714.2 1218.6l25.6 25.6m0-25.6l-25.6 25.6M761.1 1190.8l25.6 25.6m0-25.6l-25.6 25.6M711.9 1183.8l25.6 25.6m0-25.6l-25.6 25.6M697.2 1209.3l25.6 25.6m0-25.6l-25.6 25.6M706.6 1215.2l25.6 25.6m0-25.6l-25.6 25.6M700.5 1175.7l25.6 25.6m0-25.6l-25.6 25.6M735.1 1178.0l25.6 25.6m0-25.6l-25.6 25.6M746.9 1195.4l25.6 25.6m0-25.6l-25.6 25.6M703.5 1207.6l25.6 25.6m0-25.6l-25.6 25.6M742.1 1165.5l25.6 25.6m0-25.6l-25.6 25.6M760.3 1203.5l25.6 25.6m0-25.6l-25.6 25.6M741.1 1165.5l25.6 25.6m0-25.6l-25.6 25.6M711.0 1187.3l25.6 25.6m0-25.6l-25.6 25.6M747.7 1170.3l25.6 25.6m0-25.6l-25.6 25.6M714.3 1165.0l25.6 25.6m0-25.6l-25.6 25.6M722.1 1203.5l25.6 25.6m0-25.6l-25.6 25.6M697.4 1185.0l25.6 25.6m0-25.6l-25.6 25.6M737.9 1223.6l25.6 25.6m0-25.6l-25.6 25.6M744.3 1188.3l25.6 25.6m0-25.6l-25.6 25.6M704.7 1177.5l25.6 25.6m0-25.6l-25.6 25.6M712.0 1198.6l25.6 25.6m0-25.6l-25.6 25.6M727.3 1225.1l25.6 25.6m0-25.6l-25.6 25.6M734.6 1172.6l25.6 25.6m0-25.6l-25.6 25.6M756.1 1211.4l25.6 25.6m0-25.6l-25.6 25.6M730.6 1178.7l25.6 25.6m0-25.6l-25.6 25.6M697.9 1179.5l25.6 25.6m0-25.6l-25.6 25.6M748.0 1178.7l25.6 25.6m0-25.6l-25.6 25.6M700.5 1199.1l25.6 25.6m0-25.6l-25.6 25.6M734.2 1209.2l25.6 25.6m0-25.6l-25.6 25.6M741.1 1221.4l25.6 25.6m0-25.6l-25.6 25.6M710.3 1214.9l25.6 25.6m0-25.6l-25.6 25.6M706.7 1209.5l25.6 25.6m0-25.6l-25.6 25.6M732.8 1201.1l25.6 25.6m0-25.6l-25.6 25.6M750.5 1194.8l25.6 25.6m0-25.6l-25.6 25.6M751.0 1212.2l25.6 25.6m0-25.6l-25.6 25.6M731.6 1181.9l25.6 25.6m0-25.6l-25.6 25.6M710.6 1183.6l25.6 25.6m0-25.6l-25.6 25.6M723.0 1194.6l25.6 25.6m0-25.6l-25.6 25.6M763.7 1202.4l25.6 25.6m0-25.6l-25.6 25.6M745.2 1177.3l25.6 25.6m0-25.6l-25.6 25.6M711.2 1188.0l25.6 25.6m0-25.6l-25.6 25.6M732.5 1173.1l25.6 25.6m0-25.6l-25.6 25.6M758.4 1185.2l25.6 25.6m0-25.6l-25.6 25.6M743.2 1164.5l25.6 25.6m0-25.6l-25.6 25.6M728.0 1201.9l25.6 25.6m0-25.6l-25.6 25.6M732.9 1209.2l25.6 25.6m0-25.6l-25.6 25.6M735.3 1199.1l25.6 25.6m0-25.6l-25.6 25.6M696.3 1183.8l25.6 25.6m0-25.6l-25.6 25.6M693.9 1203.9l25.6 25.6m0-25.6l-25.6 25.6M736.0 1190.5l25.6 25.6m0-25.6l-25.6 25.6M709.4 1182.6l25.6 25.6m0-25.6l-25.6 25.6M754.3 1218.3l25.6 25.6m0-25.6l-25.6 25.6M727.0 1221.1l25.6 25.6m0-25.6l-25.6 25.6M705.6 1169.1l25.6 25.6m0-25.6l-25.6 25.6M717.1 1176.3l25.6 25.6m0-25.6l-25.6 25.6M714.4 1199.6l25.6 25.6m0-25.6l-25.6 25.6M763.7 1187.9l25.6 25.6m0-25.6l-25.6 25.6M729.5 1201.9l25.6 25.6m0-25.6l-25.6 25.6M727.4 1215.7l25.6 25.6m0-25.6l-25.6 25.6M756.6 1176.4l25.6 25.6m0-25.6l-25.6 25.6M732.3 1188.8l25.6 25.6m0-25.6l-25.6 25.6M1519.2 1039.8l25.6 25.6m0-25.6l-25.6 25.6M1490.3 1041.0l25.6 25.6m0-25.6l-25.6 25.6M1525.2 1077.4l25.6 25.6m0-25.6l-25.6 25.6M1513.3 1033.9l25.6 25.6m0-25.6l-25.6 25.6M1503.4 1052.8l25.6 25.6m0-25.6l-25.6 25.6M1485.5 1053.5l25.6 25.6m0-25.6l-25.6 25.6M1528.6 1086.0l25.6 25.6m0-25.6l-25.6 25.6M1511.6 1086.1l25.6 25.6m0-25.6l-25.6 25.6M1497.3 1074.1l25.6 25.6m0-25.6l-25.6 25.6M1513.2 1087.1l25.6 25.6m0-25.6l-25.6 25.6M1510.4 1068.2l25.6 25.6m0-25.6l-25.6 25.6M1508.9 1055.1l25.6 25.6m0-25.6l-25.6 25.6M1546.5 1080.7l25.6 25.6m0-25.6l-25.6 25.6M1518.7 1109.7l25.6 25.6m0-25.6l-25.6 25.6M1535.2 1044.5l25.6 25.6m0-25.6l-25.6 25.6M1527.8 1092.5l25.6 25.6m0-25.6l-25.6 25.6M1541.0 1094.0l25.6 25.6m0-25.6l-25.6 25.6M1528.0 1046.0l25.6 25.6m0-25.6l-25.6 25.6M1491.9 1079.0l25.6 25.6m0-25.6l-25.6 25.6M1523.4 1047.7l25.6 25.6m0-25.6l-25.6 25.6M1502.6 1061.4l25.6 25.6m0-25.6l-25.6 25.6M1513.7 1081.5l25.6 25.6m0-25.6l-25.6 25.6M1506.1 1043.6l25.6 25.6m0-25.6l-25.6 25.6M1533.1 1101.3l25.6 25.6m0-25.6l-25.6 25.6M1509.8 1097.4l25.6 25.6m0-25.6l-25.6 25.6M1522.8 1089.3l25.6 25.6m0-25.6l-25.6 25.6M1523.5 1052.9l25.6 25.6m0-25.6l-25.6 25.6M1524.8 1096.3l25.6 25.6m0-25.6l-25.6 25.6M1497.8 1106.4l25.6 25.6m0-25.6l-25.6 25.6M1539.4 1097.9l25.6 25.6m0-25.6l-25.6 25.6M1544.6 1085.3l25.6 25.6m0-25.6l-25.6 25.6M1504.0 1056.4l25.6 25.6m0-25.6l-25.6 25.6M1492.9 1075.2l25.6 25.6m0-25.6l-25.6 25.6M1511.4 1089.9l25.6 25.6m0-25.6l-25.6 25.6M1488.3 1101.8l25.6 25.6m0-25.6l-25.6 25.6M1547.3 1071.7l25.6 25.6m0-25.6l-25.6 25.6M1528.3 1084.4l25.6 25.6m0-25.6l-25.6 25.6M1519.2 1066.5l25.6 25.6m0-25.6l-25.6 25.6M1509.3 1051.0l25.6 25.6m0-25.6l-25.6 25.6M1516.8 1071.5l25.6 25.6m0-25.6l-25.6 25.6M1519.7 1050.6l25.6 25.6m0-25.6l-25.6 25.6M1513.2 1073.5l25.6 25.6m0-25.6l-25.6 25.6M1525.3 1047.3l25.6 25.6m0-25.6l-25.6 25.6M1521.6 1096.2l25.6 25.6m0-25.6l-25.6 25.6M1526.7 1062.5l25.6 25.6m0-25.6l-25.6 25.6M1500.0 1065.8l25.6 25.6m0-25.6l-25.6 25.6M1525.8 1103.6l25.6 25.6m0-25.6l-25.6 25.6M1508.3 1055.2l25.6 25.6m0-25.6l-25.6 25.6M1521.7 1077.8l25.6 25.6m0-25.6l-25.6 25.6M1492.3 1054.7l25.6 25.6m0-25.6l-25.6 25.6M1509.7 1089.9l25.6 25.6m0-25.6l-25.6 25.6M1488.8 1050.6l25.6 25.6m0-25.6l-25.6 25.6M1522.7 1044.3l25.6 25.6m0-25.6l-25.6 25.6M1515.0 1081.9l25.6 25.6m0-25.6l-25.6 25.6M1509.7 1047.1l25.6 25.6m0-25.6l-25.6 25.6M1510.7 1063.1l25.6 25.6m0-25.6l-25.6 25.6M1520.1 1051.0l25.6 25.6m0-25.6l-25.6 25.6M1530.7 1041.4l25.6 25.6m0-25.6l-25.6 25.6M1507.7 1072.4l25.6 25.6m0-25.6l-25.6 25.6M1533.5 1057.6l25.6 25.6m0-25.6l-25.6 25.6M1525.3 1057.5l25.6 25.6m0-25.6l-25.6 25.6M1525.2 1105.4l25.6 25.6m0-25.6l-25.6 25.6M1502.3 1084.0l25.6 25.6m0-25.6l-25.6 25.6M1492.8 1094.3l25.6 25.6m0-25.6l-25.6 25.6M1538.5 1073.0l25.6 25.6m0-25.6l-25.6 25.6M1487.5 1081.7l25.6 25.6m0-25.6l-25.6 25.6M1534.6 1095.2l25.6 25.6m0-25.6l-25.6 25.6M1526.0 1038.6l25.6 25.6m0-25.6l-25.6 25.6M1498.9 1102.3l25.6 25.6m0-25.6l-25.6 25.6M1488.9 1095.4l25.6 25.6m0-25.6l-25.6 25.6M1543.8 1086.0l25.6 25.6m0-25.6l-25.6 25.6M1536.8 1064.3l25.6 25.6m0-25.6l-25.6 25.6M1485.7 1069.8l25.6 25.6m0-25.6l-25.6 25.6M1507.1 1070.9l25.6 25.6m0-25.6l-25.6 25.6M1529.1 1068.4l25.6 25.6m0-25.6l-25.6 25.6M1517.0 1083.7l25.6 25.6m0-25.6l-25.6 25.6M1512.1 1107.9l25.6 25.6m0-25.6l-25.6 25.6M1523.3 1074.5l25.6 25.6m0-25.6l-25.6 25.6M1507.1 1055.6l25.6 25.6m0-25.6l-25.6 25.6M1540.3 1075.6l25.6 25.6m0-25.6l-25.6 25.6M1488.8 1059.0l25.6 25.6m0-25.6l-25.6 25.6M1508.8 1060.1l25.6 25.6m0-25.6l-25.6 25.6M1533.3 1047.7l25.6 25.6m0-25.6l-25.6 25.6M1524.5 1076.1l25.6 25.6m0-25.6l-25.6 25.6M1486.4 1073.3l25.6 25.6m0-25.6l-25.6 25.6M1509.8 1085.8l25.6 25.6m0-25.6l-25.6 25.6M1501.0 1080.4l25.6 25.6m0-25.6l-25.6 25.6M1483.8 1052.2l25.6 25.6m0-25.6l-25.6 25.6M1528.8 1096.1l25.6 25.6m0-25.6l-25.6 25.6M1511.9 1056.2l25.6 25.6m0-25.6l-25.6 25.6M1528.4 1038.2l25.6 25.6m0-25.6l-25.6 25.6M1494.1 1088.7l25.6 25.6m0-25.6l-25.6 25.6M1526.3 1048.0l25.6 25.6m0-25.6l-25.6 25.6M1484.1 1095.6l25.6 25.6m0-25.6l-25.6 25.6M1515.8 1049.5l25.6 25.6m0-25.6l-25.6 25.6M1513.5 1095.0l25.6 25.6m0-25.6l-25.6 25.6M1479.0 1087.6l25.6 25.6m0-25.6l-25.6 25.6M1523.9 1036.6l25.6 25.6m0-25.6l-25.6 25.6M1525.6 1038.8l25.6 25.6m0-25.6l-25.6 25.6M1537.0 1081.6l25.6 25.6m0-25.6l-25.6 25.6M1546.3 1062.2l25.6 25.6m0-25.6l-25.6 25.6M1512.3 1097.9l25.6 25.6m0-25.6l-25.6 25.6M1497.4 1054.5l25.6 25.6m0-25.6l-25.6 25.6M1502.8 1070.2l25.6 25.6m0-25.6l-25.6 25.6M1488.5 1083.7l25.6 25.6m0-25.6l-25.6 25.6M1525.7 1074.1l25.6 25.6m0-25.6l-25.6 25.6M1543.8 1065.6l25.6 25.6m0-25.6l-25.6 25.6M1539.0 1060.1l25.6 25.6m0-25.6l-25.6 25.6M1524.7 1037.6l25.6 25.6m0-25.6l-25.6 25.6M1517.3 1067.3l25.6 25.6m0-25.6l-25.6 25.6M1500.3 1056.4l25.6 25.6m0-25.6l-25.6 25.6M1503.9 1053.6l25.6 25.6m0-25.6l-25.6 25.6M1478.3 1062.2l25.6 25.6m0-25.6l-25.6 25.6M1499.0 1058.6l25.6 25.6m0-25.6l-25.6 25.6M1488.4 1068.9l25.6 25.6m0-25.6l-25.6 25.6M1530.8 1065.8l25.6 25.6m0-25.6l-25.6 25.6M1502.2 1102.1l25.6 25.6m0-25.6l-25.6 25.6M1532.7 1093.1l25.6 25.6m0-25.6l-25.6 25.6M1537.4 1064.5l25.6 25.6m0-25.6l-25.6 25.6M1509.3 1099.0l25.6 25.6m0-25.6l-25.6 25.6M1498.5 1069.0l25.6 25.6m0-25.6l-25.6 25.6M1521.6 1082.3l25.6 25.6m0-25.6l-25.6 25.6M1505.9 1096.4l25.6 25.6m0-25.6l-25.6 25.6M1507.9 1091.1l25.6 25.6m0-25.6l-25.6 25.6M1535.2 1087.5l25.6 25.6m0-25.6l-25.6 25.6M1527.4 1046.1l25.6 25.6m0-25.6l-25.6 25.6M1485.6 1058.6l25.6 25.6m0-25.6l-25.6 25.6M1521.5 1103.9l25.6 25.6m0-25.6l-25.6 25.6M1486.0 1079.3l25.6 25.6m0-25.6l-25.6 25.6M1493.2 1054.6l25.6 25.6m0-25.6l-25.6 25.6M1505.5 1090.3l25.6 25.6m0-25.6l-25.6 25.6M1516.8 1100.0l25.6 25.6m0-25.6l-25.6 25.6M1491.5 1092.5l25.6 25.6m0-25.6l-25.6 25.6M1533.8 1073.9l25.6 25.6m0-25.6l-25.6 25.6M1523.7 1057.5l25.6 25.6m0-25.6l-25.6 25.6M1488.2 1062.6l25.6 25.6m0-25.6l-25.6 25.6M1504.3 1110.5l25.6 25.6m0-25.6l-25.6 25.6M1503.2 1105.5l25.6 25.6m0-25.6l-25.6 25.6M1517.3 1080.8l25.6 25.6m0-25.6l-25.6 25.6M1528.9 1053.2l25.6 25.6m0-25.6l-25.6 25.6M1533.2 1081.5l25.6 25.6m0-25.6l-25.6 25.6M1483.1 1084.7l25.6 25.6m0-25.6l-25.6 25.6M1525.6 1084.1l25.6 25.6m0-25.6l-25.6 25.6M1542.5 1063.6l25.6 25.6m0-25.6l-25.6 25.6M1524.2 1091.1l25.6 25.6m0-25.6l-25.6 25.6M1494.2 1098.2l25.6 25.6m0-25.6l-25.6 25.6M1487.1 1047.9l25.6 25.6m0-25.6l-25.6 25.6M1523.6 1046.6l25.6 25.6m0-25.6l-25.6 25.6M1510.0 1038.2l25.6 25.6m0-25.6l-25.6 25.6M1513.7 1045.0l25.6 25.6m0-25.6l-25.6 25.6M1518.9 1039.7l25.6 25.6m0-25.6l-25.6 25.6M1523.4 1065.0l25.6 25.6m0-25.6l-25.6 25.6M1513.9 1070.3l25.6 25.6m0-25.6l-25.6 25.6M1514.9 1042.1l25.6 25.6m0-25.6l-25.6 25.6M1476.4 1072.7l25.6 25.6m0-25.6l-25.6 25.6M1491.0 1061.0l25.6 25.6m0-25.6l-25.6 25.6M1519.4 1036.1l25.6 25.6m0-25.6l-25.6 25.6M1494.6 1057.0l25.6 25.6m0-25.6l-25.6 25.6M1488.6 1080.1l25.6 25.6m0-25.6l-25.6 25.6M1508.9 1051.1l25.6 25.6m0-25.6l-25.6 25.6M1491.2 1090.9l25.6 25.6m0-25.6l-25.6 25.6M1496.7 1087.1l25.6 25.6m0-25.6l-25.6 25.6M1520.0 1036.8l25.6 25.6m0-25.6l-25.6 25.6M1487.9 1072.3l25.6 25.6m0-25.6l-25.6 25.6M1520.3 1092.1l25.6 25.6m0-25.6l-25.6 25.6M1529.2 1095.9l25.6 25.6m0-25.6l-25.6 25.6M1502.8 1066.5l25.6 25.6m0-25.6l-25.6 25.6M1530.4 1061.4l25.6 25.6m0-25.6l-25.6 25.6M1530.7 1042.1l25.6 25.6m0-25.6l-25.6 25.6M1528.1 1067.6l25.6 25.6m0-25.6l-25.6 25.6M596.0 1427.6l25.6 25.6m0-25.6l-25.6 25.6M635.1 1414.7l25.6 25.6m0-25.6l-25.6 25.6M603.6 1405.4l25.6 25.6m0-25.6l-25.6 25.6M655.4 1400.9l25.6 25.6m0-25.6l-25.6 25.6M591.8 1406.7l25.6 25.6m0-25.6l-25.6 25.6M601.1 1411.7l25.6 25.6m0-25.6l-25.6 25.6M618.2 1396.1l25.6 25.6m0-25.6l-25.6 25.6M609.6 1433.1l25.6 25.6m0-25.6l-25.6 25.6M606.1 1438.9l25.6 25.6m0-25.6l-25.6 25.6M615.4 1393.8l25.6 25.6m0-25.6l-25.6 25.6M645.4 1425.4l25.6 25.6m0-25.6l-25.6 25.6M605.0 1428.0l25.6 25.6m0-25.6l-25.6 25.6M596.6 1400.9l25.6 25.6m0-25.6l-25.6 25.6M652.0 1409.3l25.6 25.6m0-25.6l-25.6 25.6M600.4 1423.3l25.6 25.6m0-25.6l-25.6 25.6M648.6 1413.8l25.6 25.6m0-25.6l-25.6 25.6M594.8 1408.8l25.6 25.6m0-25.6l-25.6 25.6M637.0 1429.8l25.6 25.6m0-25.6l-25.6 25.6M660.1 1410.3l25.6 25.6m0-25.6l-25.6 25.6M615.1 1413.4l25.6 25.6m0-25.6l-25.6 25.6M651.1 1398.1l25.6 25.6m0-25.6l-25.6 25.6M642.8 1385.9l25.6 25.6m0-25.6l-25.6 25.6M645.3 1401.0l25.6 25.6m0-25.6l-25.6 25.6M638.1 1428.3l25.6 25.6m0-25.6l-25.6 25.6M601.3 1412.6l25.6 25.6m0-25.6l-25.6 25.6M633.1 1426.6l25.6 25.6m0-25.6l-25.6 25.6M607.8 1396.4l25.6 25.6m0-25.6l-25.6 25.6M605.2 1439.2l25.6 25.6m0-25.6l-25.6 25.6M622.3 1409.3l25.6 25.6m0-25.6l-25.6 25.6M599.7 1429.0l25.6 25.6m0-25.6l-25.6 25.6M616.6 1438.7l25.6 25.6m0-25.6l-25.6 25.6M647.3 1414.6l25.6 25.6m0-25.6l-25.6 25.6M642.5 1394.0l25.6 25.6m0-25.6l-25.6 25.6M619.2 1402.0l25.6 25.6m0-25.6l-25.6 25.6M600.1 1414.5l25.6 25.6m0-25.6l-25.6 25.6M624.3 1439.4l25.6 25.6m0-25.6l-25.6 25.6M591.5 1408.0l25.6 25.6m0-25.6l-25.6 25.6M606.3 1405.1l25.6 25.6m0-25.6l-25.6 25.6M637.6 1422.8l25.6 25.6m0-25.6l-25.6 25.6M627.9 1403.9l25.6 25.6m0-25.6l-25.6 25.6M639.4 1421.9l25.6 25.6m0-25.6l-25.6 25.6M594.4 1410.2l25.6 25.6m0-25.6l-25.6 25.6M602.3 1395.8l25.6 25.6m0-25.6l-25.6 25.6M631.0 1415.5l25.6 25.6m0-25.6l-25.6 25.6M629.9 1396.5l25.6 25.6m0-25.6l-25.6 25.6M622.5 1395.9l25.6 25.6m0-25.6l-25.6 25.6M636.3 1428.4l25.6 25.6m0-25.6l-25.6 25.6M655.3 1431.7l25.6 25.6m0-25.6l-25.6 25.6M608.5 1405.0l25.6 25.6m0-25.6l-25.6 25.6M605.6 1420.3l25.6 25.6m0-25.6l-25.6 25.6M659.6 1424.2l25.6 25.6m0-25.6l-25.6 25.6M596.2 1398.9l25.6 25.6m0-25.6l-25.6 25.6M600.5 1423.4l25.6 25.6m0-25.6l-25.6 25.6M627.2 1420.8l25.6 25.6m0-25.6l-25.6 25.6M657.8 1401.9l25.6 25.6m0-25.6l-25.6 25.6M613.5 1441.6l25.6 25.6m0-25.6l-25.6 25.6M635.3 1398.3l25.6 25.6m0-25.6l-25.6 25.6M598.6 1395.7l25.6 25.6m0-25.6l-25.6 25.6M591.6 1415.1l25.6 25.6m0-25.6l-25.6 25.6M628.2 1433.8l25.6 25.6m0-25.6l-25.6 25.6M623.8 1399.7l25.6 25.6m0-25.6l-25.6 25.6M614.8 1441.7l25.6 25.6m0-25.6l-25.6 25.6M594.9 1416.9l25.6 25.6m0-25.6l-25.6 25.6M627.8 1427.3l25.6 25.6m0-25.6l-25.6 25.6M617.3 1424.8l25.6 25.6m0-25.6l-25.6 25.6M646.6 1411.2l25.6 25.6m0-25.6l-25.6 25.6M615.7 1410.2l25.6 25.6m0-25.6l-25.6 25.6M605.0 1410.1l25.6 25.6m0-25.6l-25.6 25.6M619.5 1418.8l25.6 25.6m0-25.6l-25.6 25.6M650.9 1434.2l25.6 25.6m0-25.6l-25.6 25.6M616.5 1426.7l25.6 25.6m0-25.6l-25.6 25.6M634.2 1429.8l25.6 25.6m0-25.6l-25.6 25.6M627.7 1420.1l25.6 25.6m0-25.6l-25.6 25.6M616.3 1398.4l25.6 25.6m0-25.6l-25.6 25.6M644.3 1436.2l25.6 25.6m0-25.6l-25.6 25.6M643.0 1423.2l25.6 25.6m0-25.6l-25.6 25.6M633.8 1404.5l25.6 25.6m0-25.6l-25.6 25.6M595.9 1424.2l25.6 25.6m0-25.6l-25.6 25.6M632.1 1402.4l25.6 25.6m0-25.6l-25.6 25.6M608.5 1435.6l25.6 25.6m0-25.6l-25.6 25.6M601.6 1435.7l25.6 25.6m0-25.6l-25.6 25.6M636.5 1443.9l25.6 25.6m0-25.6l-25.6 25.6M609.8 1413.7l25.6 25.6m0-25.6l-25.6 25.6M614.6 1417.5l25.6 25.6m0-25.6l-25.6 25.6M622.2 1398.7l25.6 25.6m0-25.6l-25.6 25.6M649.8 1400.0l25.6 25.6m0-25.6l-25.6 25.6M615.0 1425.7l25.6 25.6m0-25.6l-25.6 25.6M614.1 1405.1l25.6 25.6m0-25.6l-25.6 25.6M636.1 1406.3l25.6 25.6m0-25.6l-25.6 25.6M600.4 1412.3l25.6 25.6m0-25.6l-25.6 25.6M623.1 1441.6l25.6 25.6m0-25.6l-25.6 25.6M605.0 1431.1l25.6 25.6m0-25.6l-25.6 25.6M608.7 1407.0l25.6 25.6m0-25.6l-25.6 25.6M619.0 1420.1l25.6 25.6m0-25.6l-25.6 25.6M642.1 1440.3l25.6 25.6m0-25.6l-25.6 25.6M614.4 1437.3l25.6 25.6m0-25.6l-25.6 25.6M648.4 1429.1l25.6 25.6m0-25.6l-25.6 25.6M610.6 1431.2l25.6 25.6m0-25.6l-25.6 25.6M624.5 1421.9l25.6 25.6m0-25.6l-25.6 25.6M620.7 1428.1l25.6 25.6m0-25.6l-25.6 25.6M648.9 1433.2l25.6 25.6m0-25.6l-25.6 25.6M622.5 1433.8l25.6 25.6m0-25.6l-25.6 25.6M654.2 1399.2l25.6 25.6m0-25.6l-25.6 25.6M652.3 1394.6l25.6 25.6m0-25.6l-25.6 25.6M640.1 1426.4l25.6 25.6m0-25.6l-25.6 25.6M656.8 1419.0l25.6 25.6m0-25.6l-25.6 25.6M616.0 1398.2l25.6 25.6m0-25.6l-25.6 25.6M601.9 1427.6l25.6 25.6m0-25.6l-25.6 25.6M621.5 1399.3l25.6 25.6m0-25.6l-25.6 25.6M639.6 1398.9l25.6 25.6m0-25.6l-25.6 25.6M616.5 1404.5l25.6 25.6m0-25.6l-25.6 25.6M653.3 1434.1l25.6 25.6m0-25.6l-25.6 25.6M624.1 1387.7l25.6 25.6m0-25.6l-25.6 25.6M634.3 1415.8l25.6 25.6m0-25.6l-25.6 25.6M635.7 1426.1l25.6 25.6m0-25.6l-25.6 25.6M619.8 1432.6l25.6 25.6m0-25.6l-25.6 25.6M646.9 1418.5l25.6 25.6m0-25.6l-25.6 25.6M617.2 1404.0l25.6 25.6m0-25.6l-25.6 25.6M641.9 1394.1l25.6 25.6m0-25.6l-25.6 25.6M623.4 1398.7l25.6 25.6m0-25.6l-25.6 25.6M599.5 1424.6l25.6 25.6m0-25.6l-25.6 25.6M626.5 1415.0l25.6 25.6m0-25.6l-25.6 25.6M643.4 1390.2l25.6 25.6m0-25.6l-25.6 25.6M625.5 1420.6l25.6 25.6m0-25.6l-25.6 25.6M644.5 1394.7l25.6 25.6m0-25.6l-25.6 25.6M644.5 1418.8l25.6 25.6m0-25.6l-25.6 25.6M652.1 1432.2l25.6 25.6m0-25.6l-25.6 25.6M635.9 1443.4l25.6 25.6m0-25.6l-25.6 25.6M627.2 1405.0l25.6 25.6m0-25.6l-25.6 25.6M619.4 1395.6l25.6 25.6m0-25.6l-25.6 25.6M626.7 1385.5l25.6 25.6m0-25.6l-25.6 25.6M625.1 1423.5l25.6 25.6m0-25.6l-25.6 25.6M649.6 1407.4l25.6 25.6m0-25.6l-25.6 25.6M654.7 1403.1l25.6 25.6m0-25.6l-25.6 25.6M624.8 1385.6l25.6 25.6m0-25.6l-25.6 25.6M610.2 1398.9l25.6 25.6m0-25.6l-25.6 25.6M655.9 1423.0l25.6 25.6m0-25.6l-25.6 25.6M603.7 1424.0l25.6 25.6m0-25.6l-25.6 25.6M638.9 1409.3l25.6 25.6m0-25.6l-25.6 25.6M627.8 1407.6l25.6 25.6m0-25.6l-25.6 25.6M617.6 1387.2l25.6 25.6m0-25.6l-25.6 25.6M625.3 1437.4l25.6 25.6m0-25.6l-25.6 25.6M655.8 1409.4l25.6 25.6m0-25.6l-25.6 25.6M609.7 1409.9l25.6 25.6m0-25.6l-25.6 25.6M647.5 1421.1l25.6 25.6m0-25.6l-25.6 25.6M613.3 1421.7l25.6 25.6m0-25.6l-25.6 25.6M622.2 1425.0l25.6 25.6m0-25.6l-25.6 25.6M619.2 1389.3l25.6 25.6m0-25.6l-25.6 25.6M628.6 1429.6l25.6 25.6m0-25.6l-25.6 25.6M603.0 1412.2l25.6 25.6m0-25.6l-25.6 25.6M647.1 1406.9l25.6 25.6m0-25.6l-25.6 25.6M616.7 1442.4l25.6 25.6m0-25.6l-25.6 25.6M644.4 1432.6l25.6 25.6m0-25.6l-25.6 25.6M610.7 1438.8l25.6 25.6m0-25.6l-25.6 25.6M596.8 1406.0l25.6 25.6m0-25.6l-25.6 25.6M641.7 1436.7l25.6 25.6m0-25.6l-25.6 25.6M607.0 1401.8l25.6 25.6m0-25.6l-25.6 25.6M630.6 1385.6l25.6 25.6m0-25.6l-25.6 25.6M642.0 1425.4l25.6 25.6m0-25.6l-25.6 25.6M616.6 1425.2l25.6 25.6m0-25.6l-25.6 25.6M1963.6 1076.8l25.6 25.6m0-25.6l-25.6 25.6M1955.0 1099.7l25.6 25.6m0-25.6l-25.6 25.6M1931.6 1073.4l25.6 25.6m0-25.6l-25.6 25.6M1932.0 1092.7l25.6 25.6m0-25.6l-25.6 25.6M1933.6 1081.2l25.6 25.6m0-25.6l-25.6 25.6M1947.9 1070.9l25.6 25.6m0-25.6l-25.6 25.6M1978.4 1067.6l25.6 25.6m0-25.6l-25.6 25.6M1973.1 1085.6l25.6 25.6m0-25.6l-25.6 25.6M1973.6 1065.6l25.6 25.6m0-25.6l-25.6 25.6M1965.6 1086.2l25.6 25.6m0-25.6l-25.6 25.6M1928.4 1075.9l25.6 25.6m0-25.6l-25.6 25.6M1940.7 1068.3l25.6 25.6m0-25.6l-25.6 25.6M1971.9 1054.2l25.6 25.6m0-25.6l-25.6 25.6M1917.7 1042.4l25.6 25.6m0-25.6l-25.6 25.6M1932.8 1053.4l25.6 25.6m0-25.6l-25.6 25.6M1944.6 1083.5l25.6 25.6m0-25.6l-25.6 25.6M1978.4 1075.1l25.6 25.6m0-25.6l-25.6 25.6M1955.7 1051.5l25.6 25.6m0-25.6l-25.6 25.6M1956.6 1097.5l25.6 25.6m0-25.6l-25.6 25.6M1965.7 1038.6l25.6 25.6m0-25.6l-25.6 25.6M1961.4 1098.9l25.6 25.6m0-25.6l-25.6 25.6M1960.7 1040.2l25.6 25.6m0-25.6l-25.6 25.6M1936.3 1083.9l25.6 25.6m0-25.6l-25.6 25.6M1954.4 1049.8l25.6 25.6m0-25.6l-25.6 25.6M1924.3 1090.2l25.6 25.6m0-25.6l-25.6 25.6M1919.7 1094.9l25.6 25.6m0-25.6l-25.6 25.6M1944.7 1077.0l25.6 25.6m0-25.6l-25.6 25.6M1915.6 1056.8l25.6 25.6m0-25.6l-25.6 25.6M1958.3 1039.9l25.6 25.6m0-25.6l-25.6 25.6M1976.0 1048.2l25.6 25.6m0-25.6l-25.6 25.6M1916.3 1070.2l25.6 25.6m0-25.6l-25.6 25.6M1956.1 1086.8l25.6 25.6m0-25.6l-25.6 25.6M1934.4 1063.9l25.6 25.6m0-25.6l-25.6 25.6M1938.1 1054.8l25.6 25.6m0-25.6l-25.6 25.6M1907.8 1082.4l25.6 25.6m0-25.6l-25.6 25.6M1950.9 1073.3l25.6 25.6m0-25.6l-25.6 25.6M1928.2 1075.4l25.6 25.6m0-25.6l-25.6 25.6M1943.8 1067.2l25.6 25.6m0-25.6l-25.6 25.6M1963.9 1039.2l25.6 25.6m0-25.6l-25.6 25.6M1950.1 1044.8l25.6 25.6m0-25.6l-25.6 25.6M1937.5 1099.8l25.6 25.6m0-25.6l-25.6 25.6M1918.7 1066.9l25.6 25.6m0-25.6l-25.6 25.6M1930.4 1090.8l25.6 25.6m0-25.6l-25.6 25.6M1926.1 1039.0l25.6 25.6m0-25.6l-25.6 25.6M1957.4 1060.3l25.6 25.6m0-25.6l-25.6 25.6M1936.7 1093.8l25.6 25.6m0-25.6l-25.6 25.6M1922.7 1060.4l25.6 25.6m0-25.6l-25.6 25.6M1948.1 1079.8l25.6 25.6m0-25.6l-25.6 25.6M1932.2 1092.6l25.6 25.6m0-25.6l-25.6 25.6M1981.2 1062.6l25.6 25.6m0-25.6l-25.6 25.6M1970.1 1040.8l25.6 25.6m0-25.6l-25.6 25.6M1974.4 1062.0l25.6 25.6m0-25.6l-25.6 25.6M1947.8 1060.5l25.6 25.6m0-25.6l-25.6 25.6M1930.5 1042.3l25.6 25.6m0-25.6l-25.6 25.6M1935.5 1097.0l25.6 25.6m0-25.6l-25.6 25.6M1970.4 1061.4l25.6 25.6m0-25.6l-25.6 25.6M1931.2 1052.4l25.6 25.6m0-25.6l-25.6 25.6M1923.6 1099.4l25.6 25.6m0-25.6l-25.6 25.6M1961.1 1072.1l25.6 25.6m0-25.6l-25.6 25.6M1932.8 1046.0l25.6 25.6m0-25.6l-25.6 25.6M1971.8 1085.2l25.6 25.6m0-25.6l-25.6 25.6M1923.3 1090.3l25.6 25.6m0-25.6l-25.6 25.6M1919.3 1083.3l25.6 25.6m0-25.6l-25.6 25.6M1921.4 1059.6l25.6 25.6m0-25.6l-25.6 25.6M1956.8 1080.0l25.6 25.6m0-25.6l-25.6 25.6M1966.7 1051.0l25.6 25.6m0-25.6l-25.6 25.6M1972.1 1092.4l25.6 25.6m0-25.6l-25.6 25.6M1943.9 1081.1l25.6 25.6m0-25.6l-25.6 25.6M1924.8 1065.5l25.6 25.6m0-25.6l-25.6 25.6M1914.9 1071.1l25.6 25.6m0-25.6l-25.6 25.6M1948.6 1098.0l25.6 25.6m0-25.6l-25.6 25.6M1965.7 1087.2l25.6 25.6m0-25.6l-25.6 25.6M1934.7 1063.4l25.6 25.6m0-25.6l-25.6 25.6M1935.2 1074.9l25.6 25.6m0-25.6l-25.6 25.6M1910.1 1082.5l25.6 25.6m0-25.6l-25.6 25.6M1912.5 1059.0l25.6 25.6m0-25.6l-25.6 25.6M1944.8 1056.2l25.6 25.6m0-25.6l-25.6 25.6M1977.7 1067.3l25.6 25.6m0-25.6l-25.6 25.6M1973.0 1090.2l25.6 25.6m0-25.6l-25.6 25.6M1931.5 1079.2l25.6 25.6m0-25.6l-25.6 25.6M1972.9 1062.0l25.6 25.6m0-25.6l-25.6 25.6M1946.5 1055.1l25.6 25.6m0-25.6l-25.6 25.6M1945.8 1060.1l25.6 25.6m0-25.6l-25.6 25.6M1946.2 1092.6l25.6 25.6m0-25.6l-25.6 25.6M1974.5 1072.0l25.6 25.6m0-25.6l-25.6 25.6M1949.2 1089.7l25.6 25.6m0-25.6l-25.6 25.6M1937.4 1045.0l25.6 25.6m0-25.6l-25.6 25.6M1968.0 1049.7l25.6 25.6m0-25.6l-25.6 25.6M1964.8 1048.4l25.6 25.6m0-25.6l-25.6 25.6M1976.2 1051.4l25.6 25.6m0-25.6l-25.6 25.6M1961.0 1098.1l25.6 25.6m0-25.6l-25.6 25.6M1925.4 1097.4l25.6 25.6m0-25.6l-25.6 25.6M1929.0 1037.5l25.6 25.6m0-25.6l-25.6 25.6M1961.5 1085.6l25.6 25.6m0-25.6l-25.6 25.6M1941.1 1031.8l25.6 25.6m0-25.6l-25.6 25.6M1942.7 1061.3l25.6 25.6m0-25.6l-25.6 25.6M1934.3 1061.8l25.6 25.6m0-25.6l-25.6 25.6M1910.5 1058.8l25.6 25.6m0-25.6l-25.6 25.6M1973.0 1093.3l25.6 25.6m0-25.6l-25.6 25.6M1935.2 1051.9l25.6 25.6m0-25.6l-25.6 25.6M1953.4 1093.3l25.6 25.6m0-25.6l-25.6 25.6M1960.0 1044.2l25.6 25.6m0-25.6l-25.6 25.6M1948.5 1072.8l25.6 25.6m0-25.6l-25.6 25.6M1971.4 1091.2l25.6 25.6m0-25.6l-25.6 25.6M1955.8 1095.5l25.6 25.6m0-25.6l-25.6 25.6M1936.1 1100.1l25.6 25.6m0-25.6l-25.6 25.6M1933.2 1079.2l25.6 25.6m0-25.6l-25.6 25.6M1964.7 1049.3l25.6 25.6m0-25.6l-25.6 25.6M1931.0 1037.1l25.6 25.6m0-25.6l-25.6 25.6M1948.6 1067.8l25.6 25.6m0-25.6l-25.6 25.6M1935.8 1081.7l25.6 25.6m0-25.6l-25.6 25.6M1907.3 1068.8l25.6 25.6m0-25.6l-25.6 25.6M1946.5 1062.3l25.6 25.6m0-25.6l-25.6 25.6M1958.9 1100.9l25.6 25.6m0-25.6l-25.6 25.6M1933.6 1047.4l25.6 25.6m0-25.6l-25.6 25.6M1928.7 1071.5l25.6 25.6m0-25.6l-25.6 25.6M1958.1 1049.2l25.6 25.6m0-25.6l-25.6 25.6M1965.8 1047.7l25.6 25.6m0-25.6l-25.6 25.6M1964.3 1079.3l25.6 25.6m0-25.6l-25.6 25.6M1952.0 1104.8l25.6 25.6m0-25.6l-25.6 25.6M1937.2 1064.9l25.6 25.6m0-25.6l-25.6 25.6M1955.7 1089.5l25.6 25.6m0-25.6l-25.6 25.6M1914.8 1075.1l25.6 25.6m0-25.6l-25.6 25.6M1926.3 1084.0l25.6 25.6m0-25.6l-25.6 25.6M1974.2 1070.3l25.6 25.6m0-25.6l-25.6 25.6M1941.4 1074.0l25.6 25.6m0-25.6l-25.6 25.6M1906.2 1078.8l25.6 25.6m0-25.6l-25.6 25.6M1958.7 1073.3l25.6 25.6m0-25.6l-25.6 25.6M1934.4 1051.5l25.6 25.6m0-25.6l-25.6 25.6M1940.1 1096.1l25.6 25.6m0-25.6l-25.6 25.6M1941.9 1098.2l25.6 25.6m0-25.6l-25.6 25.6M1906.2 1062.6l25.6 25.6m0-25.6l-25.6 25.6M1951.5 1068.9l25.6 25.6m0-25.6l-25.6 25.6M1912.0 1056.6l25.6 25.6m0-25.6l-25.6 25.6M1968.4 1044.9l25.6 25.6m0-25.6l-25.6 25.6M1923.1 1046.4l25.6 25.6m0-25.6l-25.6 25.6M1930.5 1084.7l25.6 25.6m0-25.6l-25.6 25.6M1954.6 1034.7l25.6 25.6m0-25.6l-25.6 25.6M1974.4 1057.2l25.6 25.6m0-25.6l-25.6 25.6M1932.7 1100.9l25.6 25.6m0-25.6l-25.6 25.6M1942.3 1041.8l25.6 25.6m0-25.6l-25.6 25.6M1928.8 1052.1l25.6 25.6m0-25.6l-25.6 25.6M1920.3 1061.5l25.6 25.6m0-25.6l-25.6 25.6M1965.5 1077.5l25.6 25.6m0-25.6l-25.6 25.6M1926.8 1103.5l25.6 25.6m0-25.6l-25.6 25.6M1920.4 1071.9l25.6 25.6m0-25.6l-25.6 25.6M1945.0 1087.8l25.6 25.6m0-25.6l-25.6 25.6M1935.7 1080.7l25.6 25.6m0-25.6l-25.6 25.6M1981.0 1070.8l25.6 25.6m0-25.6l-25.6 25.6M1919.0 1076.7l25.6 25.6m0-25.6l-25.6 25.6M1924.5 1060.3l25.6 25.6m0-25.6l-25.6 25.6M1949.2 1077.9l25.6 25.6m0-25.6l-25.6 25.6M1937.2 1089.5l25.6 25.6m0-25.6l-25.6 25.6M1939.9 1040.9l25.6 25.6m0-25.6l-25.6 25.6M1965.5 1060.6l25.6 25.6m0-25.6l-25.6 25.6M1970.7 1055.2l25.6 25.6m0-25.6l-25.6 25.6M1958.8 1077.0l25.6 25.6m0-25.6l-25.6 25.6M1909.9 1050.7l25.6 25.6m0-25.6l-25.6 25.6M1922.6 1095.7l25.6 25.6m0-25.6l-25.6 25.6M1911.1 1084.8l25.6 25.6m0-25.6l-25.6 25.6M1969.2 1080.3l25.6 25.6m0-25.6l-25.6 25.6M1960.9 1057.2l25.6 25.6m0-25.6l-25.6 25.6M1943.9 1075.0l25.6 25.6m0-25.6l-25.6 25.6M1954.7 1086.3l25.6 25.6m0-25.6l-25.6 25.6M1939.0 1051.9l25.6 25.6m0-25.6l-25.6 25.6M1929.9 1079.4l25.6 25.6m0-25.6l-25.6 25.6M1914.9 1047.6l25.6 25.6m0-25.6l-25.6 25.6M1933.7 1055.5l25.6 25.6m0-25.6l-25.6 25.6M1940.3 1031.6l25.6 25.6m0-25.6l-25.6 25.6M1935.2 1062.8l25.6 25.6m0-25.6l-25.6 25.6M1957.7 1035.7l25.6 25.6m0-25.6l-25.6 25.6M1936.3 1081.2l25.6 25.6m0-25.6l-25.6 25.6M1955.2 1095.3l25.6 25.6m0-25.6l-25.6 25.6M1966.6 1047.5l25.6 25.6m0-25.6l-25.6 25.6M1960.3 1060.9l25.6 25.6m0-25.6l-25.6 25.6M1928.3 1098.7l25.6 25.6m0-25.6l-25.6 25.6M1929.3 1049.5l25.6 25.6m0-25.6l-25.6 25.6M1934.3 1049.0l25.6 25.6m0-25.6l-25.6 25.6M1968.0 1078.0l25.6 25.6m0-25.6l-25.6 25.6M1974.2 1077.8l25.6 25.6m0-25.6l-25.6 25.6M1434.8 701.2l25.6 25.6m0-25.6l-25.6 25.6M1494.3 660.9l25.6 25.6m0-25.6l-25.6 25.6M1463.9 619.5l25.6 25.6m0-25.6l-25.6 25.6M1568.3 713.1l25.6 25.6m0-25.6l-25.6 25.6M1498.0 740.3l25.6 25.6m0-25.6l-25.6 25.6M1433.6 633.1l25.6 25.6m0-25.6l-25.6 25.6M1394.5 641.5l25.6 25.6m0-25.6l-25.6 25.6M1532.6 632.5l25.6 25.6m0-25.6l-25.6 25.6M1543.2 689.1l25.6 25.6m0-25.6l-25.6 25.6M1480.9 717.2l25.6 25.6m0-25.6l-25.6 25.6M1484.6 729.0l25.6 25.6m0-25.6l-25.6 25.6M1495.2 673.4l25.6 25.6m0-25.6l-25.6 25.6M1526.7 661.0l25.6 25.6m0-25.6l-25.6 25.6M1520.0 747.0l25.6 25.6m0-25.6l-25.6 25.6M1534.6 669.8l25.6 25.6m0-25.6l-25.6 25.6M1533.8 783.4l25.6 25.6m0-25.6l-25.6 25.6M1461.6 664.5l25.6 25.6m0-25.6l-25.6 25.6M1477.5 777.2l25.6 25.6m0-25.6l-25.6 25.6M1389.0 618.7l25.6 25.6m0-25.6l-25.6 25.6M1466.7 728.6l25.6 25.6m0-25.6l-25.6 25.6M1534.2 678.8l25.6 25.6m0-25.6l-25.6 25.6M1530.2 632.5l25.6 25.6m0-25.6l-25.6 25.6M1365.5 640.0l25.6 25.6m0-25.6l-25.6 25.6M1372.8 702.5l25.6 25.6m0-25.6l-25.6 25.6M1484.7 648.1l25.6 25.6m0-25.6l-25.6 25.6M1571.6 679.4l25.6 25.6m0-25.6l-25.6 25.6M1392.9 647.4l25.6 25.6m0-25.6l-25.6 25.6M1525.9 773.8l25.6 25.6m0-25.6l-25.6 25.6M1395.8 622.1l25.6 25.6m0-25.6l-25.6 25.6M1535.1 658.4l25.6 25.6m0-25.6l-25.6 25.6M1581.2 702.0l25.6 25.6m0-25.6l-25.6 25.6M1503.0 675.7l25.6 25.6m0-25.6l-25.6 25.6M1540.1 695.4l25.6 25.6m0-25.6l-25.6 25.6M1432.4 770.8l25.6 25.6m0-25.6l-25.6 25.6M1383.6 741.9l25.6 25.6m0-25.6l-25.6 25.6M1374.0 726.9l25.6 25.6m0-25.6l-25.6 25.6M1450.0 764.1l25.6 25.6m0-25.6l-25.6 25.6M1372.8 713.1l25.6 25.6m0-25.6l-25.6 25.6M1451.8 773.5l25.6 25.6m0-25.6l-25.6 25.6M1572.8 723.8l25.6 25.6m0-25.6l-25.6 25.6M1409.8 660.0l25.6 25.6m0-25.6l-25.6 25.6M1418.5 690.9l25.6 25.6m0-25.6l-25.6 25.6M1411.5 651.7l25.6 25.6m0-25.6l-25.6 25.6M1530.8 726.5l25.6 25.6m0-25.6l-25.6 25.6M1408.2 714.0l25.6 25.6m0-25.6l-25.6 25.6M1394.6 763.9l25.6 25.6m0-25.6l-25.6 25.6M1555.7 662.6l25.6 25.6m0-25.6l-25.6 25.6M1529.0 757.1l25.6 25.6m0-25.6l-25.6 25.6M1423.1 673.6l25.6 25.6m0-25.6l-25.6 25.6M1468.9 768.7l25.6 25.6m0-25.6l-25.6 25.6M1395.7 733.3l25.6 25.6m0-25.6l-25.6 25.6M1494.3 694.2l25.6 25.6m0-25.6l-25.6 25.6M1490.1 767.3l25.6 25.6m0-25.6l-25.6 25.6M1440.6 749.8l25.6 25.6m0-25.6l-25.6 25.6M1554.3 648.2l25.6 25.6m0-25.6l-25.6 25.6M1426.5 621.4l25.6 25.6m0-25.6l-25.6 25.6M1393.3 742.3l25.6 25.6m0-25.6l-25.6 25.6M1381.2 645.9l25.6 25.6m0-25.6l-25.6 25.6M1513.5 632.5l25.6 25.6m0-25.6l-25.6 25.6M1521.1 767.1l25.6 25.6m0-25.6l-25.6 25.6M1412.2 751.9l25.6 25.6m0-25.6l-25.6 25.6M1515.0 623.6l25.6 25.6m0-25.6l-25.6 25.6M1473.3 656.6l25.6 25.6m0-25.6l-25.6 25.6M1456.5 635.0l25.6 25.6m0-25.6l-25.6 25.6M1430.7 766.6l25.6 25.6m0-25.6l-25.6 25.6M1386.4 700.1l25.6 25.6m0-25.6l-25.6 25.6M1389.9 690.0l25.6 25.6m0-25.6l-25.6 25.6M1399.6 733.7l25.6 25.6m0-25.6l-25.6 25.6M1392.6 742.7l25.6 25.6m0-25.6l-25.6 25.6M1472.4 636.3l25.6 25.6m0-25.6l-25.6 25.6M1439.1 701.6l25.6 25.6m0-25.6l-25.6 25.6M1566.8 676.6l25.6 25.6m0-25.6l-25.6 25.6M1558.8 741.5l25.6 25.6m0-25.6l-25.6 25.6M1420.9 647.3l25.6 25.6m0-25.6l-25.6 25.6M1419.0 628.9l25.6 25.6m0-25.6l-25.6 25.6M1369.0 703.7l25.6 25.6m0-25.6l-25.6 25.6M1451.4 711.8l25.6 25.6m0-25.6l-25.6 25.6M1441.1 619.0l25.6 25.6m0-25.6l-25.6 25.6M1514.7 728.2l25.6 25.6m0-25.6l-25.6 25.6M1482.1 710.5l25.6 25.6m0-25.6l-25.6 25.6M1556.7 739.2l25.6 25.6m0-25.6l-25.6 25.6M1449.4 671.3l25.6 25.6m0-25.6l-25.6 25.6M1446.7 682.7l25.6 25.6m0-25.6l-25.6 25.6M1451.9 641.5l25.6 25.6m0-25.6l-25.6 25.6M1496.6 774.7l25.6 25.6m0-25.6l-25.6 25.6M1416.8 721.1l25.6 25.6m0-25.6l-25.6 25.6M1444.4 658.1l25.6 25.6m0-25.6l-25.6 25.6M1404.0 636.9l25.6 25.6m0-25.6l-25.6 25.6M1549.7 750.5l25.6 25.6m0-25.6l-25.6 25.6M1516.1 672.3l25.6 25.6m0-25.6l-25.6 25.6M1505.2 710.5l25.6 25.6m0-25.6l-25.6 25.6M1359.4 744.1l25.6 25.6m0-25.6l-25.6 25.6M1552.1 703.9l25.6 25.6m0-25.6l-25.6 25.6M1412.2 724.2l25.6 25.6m0-25.6l-25.6 25.6M1527.2 681.6l25.6 25.6m0-25.6l-25.6 25.6M1520.2 684.1l25.6 25.6m0-25.6l-25.6 25.6M1478.1 721.4l25.6 25.6m0-25.6l-25.6 25.6M1512.2 672.0l25.6 25.6m0-25.6l-25.6 25.6M1501.3 709.5l25.6 25.6m0-25.6l-25.6 25.6M1409.7 721.3l25.6 25.6m0-25.6l-25.6 25.6M1466.2 739.9l25.6 25.6m0-25.6l-25.6 25.6M1477.2 698.2l25.6 25.6m0-25.6l-25.6 25.6M1409.2 641.4l25.6 25.6m0-25.6l-25.6 25.6M1568.8 707.1l25.6 25.6m0-25.6l-25.6 25.6M1477.6 706.9l25.6 25.6m0-25.6l-25.6 25.6M1543.0 657.8l25.6 25.6m0-25.6l-25.6 25.6M1398.2 756.9l25.6 25.6m0-25.6l-25.6 25.6M1463.2 726.1l25.6 25.6m0-25.6l-25.6 25.6M1546.2 769.2l25.6 25.6m0-25.6l-25.6 25.6M1445.4 758.7l25.6 25.6m0-25.6l-25.6 25.6M1544.0 638.1l25.6 25.6m0-25.6l-25.6 25.6M1394.0 660.0l25.6 25.6m0-25.6l-25.6 25.6M1382.4 677.8l25.6 25.6m0-25.6l-25.6 25.6M1540.7 705.8l25.6 25.6m0-25.6l-25.6 25.6M1461.5 632.2l25.6 25.6m0-25.6l-25.6 25.6M1516.3 693.6l25.6 25.6m0-25.6l-25.6 25.6M1467.3 752.9l25.6 25.6m0-25.6l-25.6 25.6M1530.7 642.7l25.6 25.6m0-25.6l-25.6 25.6M1512.9 679.6l25.6 25.6m0-25.6l-25.6 25.6M1476.9 657.6l25.6 25.6m0-25.6l-25.6 25.6M1443.0 675.0l25.6 25.6m0-25.6l-25.6 25.6M1445.3 620.2l25.6 25.6m0-25.6l-25.6 25.6M1404.6 714.2l25.6 25.6m0-25.6l-25.6 25.6M1372.2 647.5l25.6 25.6m0-25.6l-25.6 25.6M1521.5 663.9l25.6 25.6m0-25.6l-25.6 25.6M1432.4 658.3l25.6 25.6m0-25.6l-25.6 25.6M1503.0 763.2l25.6 25.6m0-25.6l-25.6 25.6M1404.8 689.1l25.6 25.6m0-25.6l-25.6 25.6M1538.3 722.2l25.6 25.6m0-25.6l-25.6 25.6M1443.2 624.7l25.6 25.6m0-25.6l-25.6 25.6M922.7 435.9l25.6 25.6m0-25.6l-25.6 25.6M926.2 430.1l25.6 25.6m0-25.6l-25.6 25.6M921.1 438.2l25.6 25.6m0-25.6l-25.6 25.6M928.9 429.9l25.6 25.6m0-25.6l-25.6 25.6M922.3 438.5l25.6 25.6m0-25.6l-25.6 25.6M930.1 432.7l25.6 25.6m0-25.6l-25.6 25.6M935.0 432.8l25.6 25.6m0-25.6l-25.6 25.6M922.1 439.5l25.6 25.6m0-25.6l-25.6 25.6M1404.6 666.9l25.6 25.6m0-25.6l-25.6 25.6M1407.7 648.5l25.6 25.6m0-25.6l-25.6 25.6M1391.0 659.6l25.6 25.6m0-25.6l-25.6 25.6M1426.4 648.5l25.6 25.6m0-25.6l-25.6 25.6M1425.7 665.2l25.6 25.6m0-25.6l-25.6 25.6M1392.0 665.8l25.6 25.6m0-25.6l-25.6 25.6M1414.9 649.9l25.6 25.6m0-25.6l-25.6 25.6M1378.2 667.1l25.6 25.6m0-25.6l-25.6 25.6M1392.1 668.2l25.6 25.6m0-25.6l-25.6 25.6M1381.1 660.3l25.6 25.6m0-25.6l-25.6 25.6M1396.2 642.0l25.6 25.6m0-25.6l-25.6 25.6M1403.9 664.5l25.6 25.6m0-25.6l-25.6 25.6M1399.6 646.1l25.6 25.6m0-25.6l-25.6 25.6M1410.1 638.4l25.6 25.6m0-25.6l-25.6 25.6M1414.5 668.9l25.6 25.6m0-25.6l-25.6 25.6M1531.9 749.2l25.6 25.6m0-25.6l-25.6 25.6M1520.3 740.8l25.6 25.6m0-25.6l-25.6 25.6M1517.4 719.2l25.6 25.6m0-25.6l-25.6 25.6M1530.0 744.4l25.6 25.6m0-25.6l-25.6 25.6M1514.7 721.6l25.6 25.6m0-25.6l-25.6 25.6M1530.2 744.4l25.6 25.6m0-25.6l-25.6 25.6M1506.8 746.3l25.6 25.6m0-25.6l-25.6 25.6M1533.8 736.9l25.6 25.6m0-25.6l-25.6 25.6M1520.7 731.5l25.6 25.6m0-25.6l-25.6 25.6M1511.7 751.8l25.6 25.6m0-25.6l-25.6 25.6M1544.1 738.8l25.6 25.6m0-25.6l-25.6 25.6M1516.1 748.0l25.6 25.6m0-25.6l-25.6 25.6M1514.5 747.1l25.6 25.6m0-25.6l-25.6 25.6M1524.4 723.4l25.6 25.6m0-25.6l-25.6 25.6M1507.8 736.2l25.6 25.6m0-25.6l-25.6 25.6M1524.5 741.0l25.6 25.6m0-25.6l-25.6 25.6M1528.0 718.5l25.6 25.6m0-25.6l-25.6 25.6M1521.5 728.7l25.6 25.6m0-25.6l-25.6 25.6M1488.2 780.3l25.6 25.6m0-25.6l-25.6 25.6M1477.8 775.0l25.6 25.6m0-25.6l-25.6 25.6M1475.9 779.8l25.6 25.6m0-25.6l-25.6 25.6M1478.9 772.4l25.6 25.6m0-25.6l-25.6 25.6M1489.3 770.9l25.6 25.6m0-25.6l-25.6 25.6M1498.3 771.0l25.6 25.6m0-25.6l-25.6 25.6M1495.4 779.9l25.6 25.6m0-25.6l-25.6 25.6M1477.2 775.1l25.6 25.6m0-25.6l-25.6 25.6M1479.1 773.7l25.6 25.6m0-25.6l-25.6 25.6M1484.6 794.8l25.6 25.6m0-25.6l-25.6 25.6M990.2 580.8l25.6 25.6m0-25.6l-25.6 25.6M994.4 566.9l25.6 25.6m0-25.6l-25.6 25.6M981.0 576.5l25.6 25.6m0-25.6l-25.6 25.6M982.6 576.7l25.6 25.6m0-25.6l-25.6 25.6M997.2 575.1l25.6 25.6m0-25.6l-25.6 25.6M991.2 572.0l25.6 25.6m0-25.6l-25.6 25.6M883.5 1364.6l25.6 25.6m0-25.6l-25.6 25.6M876.5 1364.0l25.6 25.6m0-25.6l-25.6 25.6M891.4 1361.8l25.6 25.6m0-25.6l-25.6 25.6M884.5 1357.2l25.6 25.6m0-25.6l-25.6 25.6M875.0 1355.2l25.6 25.6m0-25.6l-25.6 25.6M879.5 1373.2l25.6 25.6m0-25.6l-25.6 25.6M883.9 1362.9l25.6 25.6m0-25.6l-25.6 25.6M886.5 1364.2l25.6 25.6m0-25.6l-25.6 25.6M884.4 1369.6l25.6 25.6m0-25.6l-25.6 25.6M885.9 1345.6l25.6 25.6m0-25.6l-25.6 25.6M869.9 1373.9l25.6 25.6m0-25.6l-25.6 25.6M880.3 1386.7l25.6 25.6m0-25.6l-25.6 25.6M879.2 1362.4l25.6 25.6m0-25.6l-25.6 25.6M894.2 1372.0l25.6 25.6m0-25.6l-25.6 25.6M897.7 1371.6l25.6 25.6m0-25.6l-25.6 25.6M879.4 1373.5l25.6 25.6m0-25.6l-25.6 25.6M874.3 1363.3l25.6 25.6m0-25.6l-25.6 25.6M876.4 1365.3l25.6 25.6m0-25.6l-25.6 25.6M888.0 1363.0l25.6 25.6m0-25.6l-25.6 25.6M884.0 1362.9l25.6 25.6m0-25.6l-25.6 25.6M888.9 1343.2l25.6 25.6m0-25.6l-25.6 25.6M879.4 1368.7l25.6 25.6m0-25.6l-25.6 25.6M1181.9 1440.0l25.6 25.6m0-25.6l-25.6 25.6M1191.9 1442.1l25.6 25.6m0-25.6l-25.6 25.6M1197.6 1437.2l25.6 25.6m0-25.6l-25.6 25.6M1189.0 1423.8l25.6 25.6m0-25.6l-25.6 25.6M1188.5 1428.6l25.6 25.6m0-25.6l-25.6 25.6M1192.1 1428.6l25.6 25.6m0-25.6l-25.6 25.6M1213.8 1419.8l25.6 25.6m0-25.6l-25.6 25.6M1199.3 1428.6l25.6 25.6m0-25.6l-25.6 25.6M1188.3 1439.4l25.6 25.6m0-25.6l-25.6 25.6M1190.2 1422.8l25.6 25.6m0-25.6l-25.6 25.6M1193.4 1430.7l25.6 25.6m0-25.6l-25.6 25.6M1174.3 1433.7l25.6 25.6m0-25.6l-25.6 25.6M1182.0 1426.4l25.6 25.6m0-25.6l-25.6 25.6M1193.9 1434.5l25.6 25.6m0-25.6l-25.6 25.6M1188.0 1449.0l25.6 25.6m0-25.6l-25.6 25.6M649.6 739.6l25.6 25.6m0-25.6l-25.6 25.6M648.6 742.5l25.6 25.6m0-25.6l-25.6 25.6M634.4 734.1l25.6 25.6m0-25.6l-25.6 25.6M639.1 755.2l25.6 25.6m0-25.6l-25.6 25.6M646.1 741.6l25.6 25.6m0-25.6l-25.6 25.6M763.9 722.9l25.6 25.6m0-25.6l-25.6 25.6M767.4 727.1l25.6 25.6m0-25.6l-25.6 25.6M771.8 726.7l25.6 25.6m0-25.6l-25.6 25.6M766.5 719.4l25.6 25.6m0-25.6l-25.6 25.6M764.7 716.2l25.6 25.6m0-25.6l-25.6 25.6M1166.5 1339.4l25.6 25.6m0-25.6l-25.6 25.6M1178.6 1334.3l25.6 25.6m0-25.6l-25.6 25.6M1162.6 1231.5l25.6 25.6m0-25.6l-25.6 25.6M1149.7 1257.9l25.6 25.6m0-25.6l-25.6 25.6M1148.7 1286.5l25.6 25.6m0-25.6l-25.6 25.6M1151.6 1227.5l25.6 25.6m0-25.6l-25.6 25.6M1179.6 1323.8l25.6 25.6m0-25.6l-25.6 25.6M1169.9 1336.2l25.6 25.6m0-25.6l-25.6 25.6M1167.4 1253.9l25.6 25.6m0-25.6l-25.6 25.6M1172.6 1416.7l25.6 25.6m0-25.6l-25.6 25.6M1125.9 1219.7l25.6 25.6m0-25.6l-25.6 25.6M1197.2 1378.4l25.6 25.6m0-25.6l-25.6 25.6M1157.7 1239.7l25.6 25.6m0-25.6l-25.6 25.6M1158.7 1277.0l25.6 25.6m0-25.6l-25.6 25.6M1179.8 1345.8l25.6 25.6m0-25.6l-25.6 25.6M1165.0 1219.6l25.6 25.6m0-25.6l-25.6 25.6M1179.0 1441.7l25.6 25.6m0-25.6l-25.6 25.6M1190.9 1280.4l25.6 25.6m0-25.6l-25.6 25.6M1160.9 1427.4l25.6 25.6m0-25.6l-25.6 25.6M1144.7 1236.3l25.6 25.6m0-25.6l-25.6 25.6M1177.7 1372.7l25.6 25.6m0-25.6l-25.6 25.6M1149.7 1270.1l25.6 25.6m0-25.6l-25.6 25.6M1186.1 1436.2l25.6 25.6m0-25.6l-25.6 25.6M1187.9 1419.3l25.6 25.6m0-25.6l-25.6 25.6M1169.8 1249.8l25.6 25.6m0-25.6l-25.6 25.6M1185.5 1381.3l25.6 25.6m0-25.6l-25.6 25.6M1194.0 1436.5l25.6 25.6m0-25.6l-25.6 25.6M1178.4 1430.5l25.6 25.6m0-25.6l-25.6 25.6M1176.0 1399.6l25.6 25.6m0-25.6l-25.6 25.6M1177.4 1393.4l25.6 25.6m0-25.6l-25.6 25.6M1215.5 1431.5l25.6 25.6m0-25.6l-25.6 25.6M1163.3 1406.6l25.6 25.6m0-25.6l-25.6 25.6M1161.9 1263.3l25.6 25.6m0-25.6l-25.6 25.6M1171.9 1420.6l25.6 25.6m0-25.6l-25.6 25.6M1160.1 1297.4l25.6 25.6m0-25.6l-25.6 25.6M1209.9 1399.8l25.6 25.6m0-25.6l-25.6 25.6M1171.8 1358.3l25.6 25.6m0-25.6l-25.6 25.6M1201.4 1393.8l25.6 25.6m0-25.6l-25.6 25.6M1129.9 1216.7l25.6 25.6m0-25.6l-25.6 25.6M1163.9 1320.6l25.6 25.6m0-25.6l-25.6 25.6M1155.9 1292.7l25.6 25.6m0-25.6l-25.6 25.6M1158.5 1268.0l25.6 25.6m0-25.6l-25.6 25.6M1176.7 1365.9l25.6 25.6m0-25.6l-25.6 25.6M1190.0 1405.5l25.6 25.6m0-25.6l-25.6 25.6M1197.9 1435.2l25.6 25.6m0-25.6l-25.6 25.6M1194.6 1423.4l25.6 25.6m0-25.6l-25.6 25.6M1223.4 1422.7l25.6 25.6m0-25.6l-25.6 25.6M1136.8 1251.5l25.6 25.6m0-25.6l-25.6 25.6M1144.5 1253.2l25.6 25.6m0-25.6l-25.6 25.6M1182.0 1292.4l25.6 25.6m0-25.6l-25.6 25.6M1198.3 1420.5l25.6 25.6m0-25.6l-25.6 25.6M1196.8 1369.2l25.6 25.6m0-25.6l-25.6 25.6M1161.1 1312.3l25.6 25.6m0-25.6l-25.6 25.6M1178.8 1292.9l25.6 25.6m0-25.6l-25.6 25.6M1199.6 1425.0l25.6 25.6m0-25.6l-25.6 25.6M1184.7 1401.3l25.6 25.6m0-25.6l-25.6 25.6M1164.5 1314.3l25.6 25.6m0-25.6l-25.6 25.6M1152.2 1199.3l25.6 25.6m0-25.6l-25.6 25.6M1183.8 1429.2l25.6 25.6m0-25.6l-25.6 25.6M1142.3 1211.9l25.6 25.6m0-25.6l-25.6 25.6M846.7 1343.1l25.6 25.6m0-25.6l-25.6 25.6M841.1 1375.4l25.6 25.6m0-25.6l-25.6 25.6M843.0 1341.7l25.6 25.6m0-25.6l-25.6 25.6M839.8 1344.8l25.6 25.6m0-25.6l-25.6 25.6M832.1 1359.9l25.6 25.6m0-25.6l-25.6 25.6M836.0 1359.4l25.6 25.6m0-25.6l-25.6 25.6M856.2 1350.7l25.6 25.6m0-25.6l-25.6 25.6M836.0 1365.9l25.6 25.6m0-25.6l-25.6 25.6M808.3 1365.0l25.6 25.6m0-25.6l-25.6 25.6M834.1 1374.2l25.6 25.6m0-25.6l-25.6 25.6M812.2 1344.1l25.6 25.6m0-25.6l-25.6 25.6M856.1 1339.2l25.6 25.6m0-25.6l-25.6 25.6M835.5 1356.3l25.6 25.6m0-25.6l-25.6 25.6M829.6 1371.7l25.6 25.6m0-25.6l-25.6 25.6M852.7 1345.7l25.6 25.6m0-25.6l-25.6 25.6M803.0 1359.1l25.6 25.6m0-25.6l-25.6 25.6M870.8 1352.2l25.6 25.6m0-25.6l-25.6 25.6M858.5 1327.4l25.6 25.6m0-25.6l-25.6 25.6M776.4 1356.0l25.6 25.6m0-25.6l-25.6 25.6M847.5 1330.8l25.6 25.6m0-25.6l-25.6 25.6M999.2 723.3l25.6 25.6m0-25.6l-25.6 25.6M930.0 679.6l25.6 25.6m0-25.6l-25.6 25.6M909.0 684.6l25.6 25.6m0-25.6l-25.6 25.6M1066.7 705.6l25.6 25.6m0-25.6l-25.6 25.6M1006.9 711.2l25.6 25.6m0-25.6l-25.6 25.6M908.4 715.0l25.6 25.6m0-25.6l-25.6 25.6M1004.4 685.7l25.6 25.6m0-25.6l-25.6 25.6M1070.6 678.9l25.6 25.6m0-25.6l-25.6 25.6M819.3 687.9l25.6 25.6m0-25.6l-25.6 25.6M1084.6 684.1l25.6 25.6m0-25.6l-25.6 25.6M999.5 708.6l25.6 25.6m0-25.6l-25.6 25.6M988.8 685.4l25.6 25.6m0-25.6l-25.6 25.6M981.4 713.5l25.6 25.6m0-25.6l-25.6 25.6M813.5 715.2l25.6 25.6m0-25.6l-25.6 25.6M1061.9 697.6l25.6 25.6m0-25.6l-25.6 25.6M905.6 723.8l25.6 25.6m0-25.6l-25.6 25.6M834.9 707.8l25.6 25.6m0-25.6l-25.6 25.6M1069.1 710.2l25.6 25.6m0-25.6l-25.6 25.6M836.4 721.6l25.6 25.6m0-25.6l-25.6 25.6M978.4 732.8l25.6 25.6m0-25.6l-25.6 25.6M845.0 726.7l25.6 25.6m0-25.6l-25.6 25.6M1053.7 701.5l25.6 25.6m0-25.6l-25.6 25.6M932.0 729.3l25.6 25.6m0-25.6l-25.6 25.6M909.0 688.4l25.6 25.6m0-25.6l-25.6 25.6M846.0 754.7l25.6 25.6m0-25.6l-25.6 25.6M898.9 671.5l25.6 25.6m0-25.6l-25.6 25.6M952.4 716.8l25.6 25.6m0-25.6l-25.6 25.6M935.1 691.6l25.6 25.6m0-25.6l-25.6 25.6M627.1 763.1l25.6 25.6m0-25.6l-25.6 25.6M631.3 755.5l25.6 25.6m0-25.6l-25.6 25.6M575.5 771.3l25.6 25.6m0-25.6l-25.6 25.6M725.9 695.2l25.6 25.6m0-25.6l-25.6 25.6M707.3 744.3l25.6 25.6m0-25.6l-25.6 25.6M748.7 728.7l25.6 25.6m0-25.6l-25.6 25.6M586.8 756.2l25.6 25.6m0-25.6l-25.6 25.6M587.2 741.0l25.6 25.6m0-25.6l-25.6 25.6M609.9 790.2l25.6 25.6m0-25.6l-25.6 25.6M545.7 792.2l25.6 25.6m0-25.6l-25.6 25.6M650.3 799.6l25.6 25.6m0-25.6l-25.6 25.6M737.5 724.0l25.6 25.6m0-25.6l-25.6 25.6M666.4 745.7l25.6 25.6m0-25.6l-25.6 25.6M759.0 719.8l25.6 25.6m0-25.6l-25.6 25.6M770.9 700.8l25.6 25.6m0-25.6l-25.6 25.6M748.9 759.6l25.6 25.6m0-25.6l-25.6 25.6M566.3 780.7l25.6 25.6m0-25.6l-25.6 25.6M726.3 743.8l25.6 25.6m0-25.6l-25.6 25.6M755.8 724.7l25.6 25.6m0-25.6l-25.6 25.6M748.6 758.3l25.6 25.6m0-25.6l-25.6 25.6M585.3 778.7l25.6 25.6m0-25.6l-25.6 25.6M680.3 765.6l25.6 25.6m0-25.6l-25.6 25.6M984.0 569.8l25.6 25.6m0-25.6l-25.6 25.6M913.9 524.2l25.6 25.6m0-25.6l-25.6 25.6M1000.2 572.5l25.6 25.6m0-25.6l-25.6 25.6M1029.7 588.0l25.6 25.6m0-25.6l-25.6 25.6M884.9 569.3l25.6 25.6m0-25.6l-25.6 25.6M1111.3 652.3l25.6 25.6m0-25.6l-25.6 25.6M1049.8 631.1l25.6 25.6m0-25.6l-25.6 25.6M920.3 537.6l25.6 25.6m0-25.6l-25.6 25.6M885.1 541.0l25.6 25.6m0-25.6l-25.6 25.6M1046.4 600.7l25.6 25.6m0-25.6l-25.6 25.6M1101.2 644.7l25.6 25.6m0-25.6l-25.6 25.6M912.5 544.2l25.6 25.6m0-25.6l-25.6 25.6M909.5 561.5l25.6 25.6m0-25.6l-25.6 25.6M1077.2 608.3l25.6 25.6m0-25.6l-25.6 25.6M788.8 1207.7l25.6 25.6m0-25.6l-25.6 25.6M1187.2 1104.5l25.6 25.6m0-25.6l-25.6 25.6M849.1 1184.8l25.6 25.6m0-25.6l-25.6 25.6M801.8 1203.3l25.6 25.6m0-25.6l-25.6 25.6M1336.3 1126.9l25.6 25.6m0-25.6l-25.6 25.6M919.5 1164.7l25.6 25.6m0-25.6l-25.6 25.6M1426.3 1075.7l25.6 25.6m0-25.6l-25.6 25.6M1362.3 1115.2l25.6 25.6m0-25.6l-25.6 25.6M1042.0 1140.0l25.6 25.6m0-25.6l-25.6 25.6M1441.8 1092.9l25.6 25.6m0-25.6l-25.6 25.6M852.1 1179.4l25.6 25.6m0-25.6l-25.6 25.6M1079.3 1131.1l25.6 25.6m0-25.6l-25.6 25.6M1219.3 1152.7l25.6 25.6m0-25.6l-25.6 25.6M1327.7 1079.2l25.6 25.6m0-25.6l-25.6 25.6M1236.8 1133.3l25.6 25.6m0-25.6l-25.6 25.6M1398.5 1082.4l25.6 25.6m0-25.6l-25.6 25.6M959.2 1140.1l25.6 25.6m0-25.6l-25.6 25.6M1093.2 1142.1l25.6 25.6m0-25.6l-25.6 25.6M1390.3 1102.0l25.6 25.6m0-25.6l-25.6 25.6M966.9 1153.4l25.6 25.6m0-25.6l-25.6 25.6M821.3 1197.0l25.6 25.6m0-25.6l-25.6 25.6M1303.4 1090.9l25.6 25.6m0-25.6l-25.6 25.6M1316.5 1109.7l25.6 25.6m0-25.6l-25.6 25.6M1197.7 1124.0l25.6 25.6m0-25.6l-25.6 25.6M1437.8 1085.2l25.6 25.6m0-25.6l-25.6 25.6M919.4 1276.1l25.6 25.6m0-25.6l-25.6 25.6M884.4 1323.6l25.6 25.6m0-25.6l-25.6 25.6M945.5 1300.2l25.6 25.6m0-25.6l-25.6 25.6M892.7 1308.2l25.6 25.6m0-25.6l-25.6 25.6M886.9 1310.5l25.6 25.6m0-25.6l-25.6 25.6M777.1 1380.4l25.6 25.6m0-25.6l-25.6 25.6M786.0 1368.1l25.6 25.6m0-25.6l-25.6 25.6M841.4 1324.8l25.6 25.6m0-25.6l-25.6 25.6M723.8 1378.7l25.6 25.6m0-25.6l-25.6 25.6M811.2 1356.3l25.6 25.6m0-25.6l-25.6 25.6M878.7 1331.8l25.6 25.6m0-25.6l-25.6 25.6M763.1 1389.8l25.6 25.6m0-25.6l-25.6 25.6M833.2 1372.6l25.6 25.6m0-25.6l-25.6 25.6M945.2 1281.3l25.6 25.6m0-25.6l-25.6 25.6M780.0 1379.3l25.6 25.6m0-25.6l-25.6 25.6M876.7 1326.3l25.6 25.6m0-25.6l-25.6 25.6M754.1 1415.8l25.6 25.6m0-25.6l-25.6 25.6M881.1 1343.7l25.6 25.6m0-25.6l-25.6 25.6" stroke="#ff0000" stroke-width="1.6" fill="none"/><rect x="177.2" y="47.1" width="2114.1" height="1645.6" fill="none" stroke="#000" stroke-width="4.8"/><path d="M177.2 1692.7v-19.5M177.2 47.1v19.5M600.4 1692.7v-19.5M600.4 47.1v19.5M1021.5 1692.7v-19.5M1021.5 47.1v19.5M1446.8 1692.7v-19.5M1446.8 47.1v19.5M1868.5 1692.7v-19.5M1868.5 47.1v19.5M2291.3 1692.7v-19.5M2291.3 47.1v19.5M177.2 1692.4h20M2291.3 1692.4h-20M177.2 1418.0h20M2291.3 1418.0h-20M177.2 1144.8h20M2291.3 1144.8h-20M177.2 871.3h20M2291.3 871.3h-20M177.2 595.2h20M2291.3 595.2h-20M177.2 321.6h20M2291.3 321.6h-20M177.2 47.1h20M2291.3 47.1h-20" stroke="#000" stroke-width="2.7"/><g font-family="DejaVu Sans, sans-serif" fill="#000"><text x="73.44" y="1706.52" font-size="56.5" textLength="90.53" lengthAdjust="spacingAndGlyphs" stroke="#fff" stroke-width="0.40">0.0</text><text x="78.09" y="1432.72" font-size="56.5" textLength="86.88" lengthAdjust="spacingAndGlyphs" stroke="#fff" stroke-width="0.40">0.5</text><text x="77.55" y="1159.22" font-size="56.5" textLength="88.96" lengthAdjust="spacingAndGlyphs" stroke="#fff" stroke-width="0.40">1.0</text><text x="78.71" y="883.82" font-size="56.5" textLength="90.99" lengthAdjust="spacingAndGlyphs" stroke="#fff" stroke-width="0.40">1.5</text><text x="74.39" y="609.82" font-size="56.5" textLength="89.55" lengthAdjust="spacingAndGlyphs" stroke="#fff" stroke-width="0.40">2.0</text><text x="76.76" y="336.62" font-size="56.5" textLength="87.97" lengthAdjust="spacingAndGlyphs" stroke="#fff" stroke-width="0.40">2.5</text><text x="72.84" y="63.12" font-size="56.5" textLength="91.16" lengthAdjust="spacingAndGlyphs" stroke="#fff" stroke-width="0.40">3.0</text><text x="134.86" y="1752.72" font-size="56.5" textLength="87.70" lengthAdjust="spacingAndGlyphs" stroke="#fff" stroke-width="0.40">0.0</text><text x="558.99" y="1752.72" font-size="56.5" textLength="89.31" lengthAdjust="spacingAndGlyphs" stroke="#fff" stroke-width="0.40">0.5</text><text x="982.09" y="1752.72" font-size="56.5" textLength="88.29" lengthAdjust="spacingAndGlyphs" stroke="#fff" stroke-width="0.40">1.0</text><text x="1407.15" y="1752.72" font-size="56.5" textLength="88.94" lengthAdjust="spacingAndGlyphs" stroke="#fff" stroke-width="0.40">1.5</text><text x="1827.32" y="1752.72" font-size="56.5" textLength="88.89" lengthAdjust="spacingAndGlyphs" stroke="#fff" stroke-width="0.40">2.0</text><text x="2252.24" y="1752.72" font-size="56.5" textLength="88.41" lengthAdjust="spacingAndGlyphs" stroke="#fff" stroke-width="0.40">2.5</text></g></g><polyline points="887.0,482.0 892.9,512.9 902.0,533.6 918.2,561.3 925.2,572.8 941.3,582.0 964.3,591.2 998.9,607.4 1033.5,618.9 1068.0,630.4 1102.6,641.9 1128.4,654.0 1171.7,665.0 1190.6,670.6 1211.3,673.4 1239.0,672.7 1273.6,663.0 1362.0,664.0 1414.0,650.0 1521.0,649.5 1543.3,657.4 1552.8,673.2 1554.4,689.0 1554.4,791.8 1559.1,815.5 1570.2,828.6 1734.3,829.3 1757.4,834.5 1780.4,838.0 1803.5,842.4 1831.1,845.8 1930.2,847.0 1941.7,841.4 1962.0,817.0" fill="none" stroke="#ff8d38" stroke-width="7" stroke-linejoin="round" stroke-linecap="round"/><polyline points="488.7,780.7 519.5,770.6 530.6,770.6 547.2,785.3 552.7,792.7 593.3,792.7 608.0,789.0 632.0,779.8 659.6,772.4 692.8,768.8 696.5,763.2 733.4,755.8 761.0,750.3 794.2,744.8 800.0,739.5 831.0,737.5 851.8,728.1 893.3,723.0 976.3,723.0 980.4,719.8 1048.9,717.8 1059.2,712.6 1117.3,711.5 1131.8,708.4 1306.7,708.6 1315.0,712.0 1342.7,717.6 1384.0,722.0 1420.0,727.0 1459.5,731.7 1495.9,734.9 1511.7,741.2 1522.8,755.5 1532.3,772.8 1532.7,812.4" fill="none" stroke="#fff100" stroke-width="7" stroke-linejoin="round" stroke-linecap="round"/><polyline points="740.9,1209.9 772.6,1207.2 803.0,1206.3 833.3,1191.1 868.0,1173.8 902.6,1163.0 937.3,1159.5 1006.6,1158.6 1049.9,1154.3 1114.9,1147.8 1179.9,1145.6 1223.2,1141.3 1257.8,1131.8 1266.5,1128.3 1353.1,1126.1 1374.8,1113.1 1396.4,1104.5 1439.8,1093.7 1461.4,1085.0 1491.7,1080.7 1520.0,1083.5" fill="none" stroke="#00b141" stroke-width="7" stroke-linejoin="round" stroke-linecap="round"/><polyline points="645.0,1425.0 675.4,1413.0 718.3,1406.8 759.7,1403.4 780.5,1397.8 815.0,1386.8 842.7,1374.3 866.9,1355.5 887.7,1334.0 902.2,1320.3 922.2,1309.1 943.0,1300.8 970.6,1288.4 1002.4,1275.8 1039.3,1261.1 1076.1,1246.4 1098.3,1237.2 1127.7,1229.8 1137.5,1230.3 1146.8,1238.7 1152.5,1252.8 1158.1,1271.5 1165.6,1295.0 1169.3,1323.0 1172.1,1351.1 1174.9,1370.0 1178.7,1398.1 1180.5,1416.8 1184.3,1435.6 1189.0,1451.5 1196.5,1463.6 1207.7,1467.4 1221.7,1465.5 1235.8,1458.0 1254.5,1444.9 1273.9,1428.6 1295.0,1413.9 1305.5,1409.7 1322.4,1397.0 1346.6,1388.3 1394.5,1386.4 1413.0,1371.7 1444.3,1358.8 1481.2,1349.6 1505.1,1341.3 1542.0,1321.9 1573.3,1299.8 1599.1,1288.8 1643.4,1275.9 1671.0,1270.3 1698.7,1253.7 1732.3,1236.5 1756.5,1223.5 1767.7,1212.3 1793.5,1202.6 1812.9,1197.7 1821.0,1193.7 1838.7,1191.3 1853.2,1183.2 1871.0,1176.8 1893.5,1175.2 1909.7,1167.1 1933.9,1152.6 1943.5,1142.9 1950.0,1126.8 1951.6,1115.5 1957.3,1084.8" fill="none" stroke="#00bef2" stroke-width="7" stroke-linejoin="round" stroke-linecap="round"/><circle cx="887.4" cy="482.4" r="30.8" fill="#ff8d38"/><circle cx="1962.4" cy="817.3" r="30.4" fill="#ff8d38"/><circle cx="488.7" cy="780.7" r="30.9" fill="#fff100"/><circle cx="1532.2" cy="812.3" r="30.5" fill="#fff100"/><circle cx="740.5" cy="1210.2" r="30.8" fill="#00b141"/><circle cx="1520" cy="1083.5" r="30.5" fill="#00b141"/><circle cx="645" cy="1425.4" r="30.4" fill="#00bef2"/><circle cx="1957.3" cy="1084.8" r="30.6" fill="#00bef2"/><g font-family="DejaVu Sans, sans-serif" fill="#000"><text x="764.49" y="417.90" font-size="47" textLength="168.26" lengthAdjust="spacingAndGlyphs" stroke="#000" stroke-width="0.70">robot 1</text><text x="434.50" y="710.70" font-size="47" textLength="167.70" lengthAdjust="spacingAndGlyphs" stroke="#000" stroke-width="0.70">robot 2</text><text x="627.95" y="1135.60" font-size="47" textLength="165.67" lengthAdjust="spacingAndGlyphs" stroke="#000" stroke-width="0.70">robot 3</text><text x="508.23" y="1352.90" font-size="47" textLength="166.50" lengthAdjust="spacingAndGlyphs" stroke="#000" stroke-width="0.70">robot 4</text><text x="2000.28" y="169.00" font-size="47" textLength="168.68" lengthAdjust="spacingAndGlyphs" stroke="#000" stroke-width="0.70">robot 1</text><text x="2000.31" y="234.50" font-size="47" textLength="167.49" lengthAdjust="spacingAndGlyphs" stroke="#000" stroke-width="0.70">robot 2</text><text x="2000.33" y="290.90" font-size="47" textLength="166.51" lengthAdjust="spacingAndGlyphs" stroke="#000" stroke-width="0.70">robot 3</text><text x="2000.30" y="351.80" font-size="47" textLength="167.96" lengthAdjust="spacingAndGlyphs" stroke="#000" stroke-width="0.70">robot 4</text><text x="1167.90" y="1817.20" font-size="47" textLength="96.25" lengthAdjust="spacingAndGlyphs" stroke="#000" stroke-width="0.70">X/m</text><g transform="translate(54.9 915) rotate(-90)"><text x="0.44" y="0.00" font-size="47" textLength="90.19" lengthAdjust="spacingAndGlyphs" stroke="#000" stroke-width="0.70">Y/m</text></g></g><line x1="1861.8" y1="155.7" x2="1980" y2="155.7" stroke="#ff8d38" stroke-width="12" stroke-linecap="round"/><line x1="1861.8" y1="221.5" x2="1980" y2="221.5" stroke="#fff100" stroke-width="12" stroke-linecap="round"/><line x1="1864.2" y1="280" x2="1982" y2="280" stroke="#00b141" stroke-width="12" stroke-linecap="round"/><line x1="1864.2" y1="341" x2="1982" y2="341" stroke="#00bef2" stroke-width="12" stroke-linecap="round"/><rect x="1810.5" y="694.5" width="5" height="5" fill="#999"/><rect x="1812.3" y="696.3" width="2.6" height="2.6" fill="#111"/><rect x="2181" y="1306.8" width="3" height="3" fill="#ff4848"/></svg>
</body></html>
